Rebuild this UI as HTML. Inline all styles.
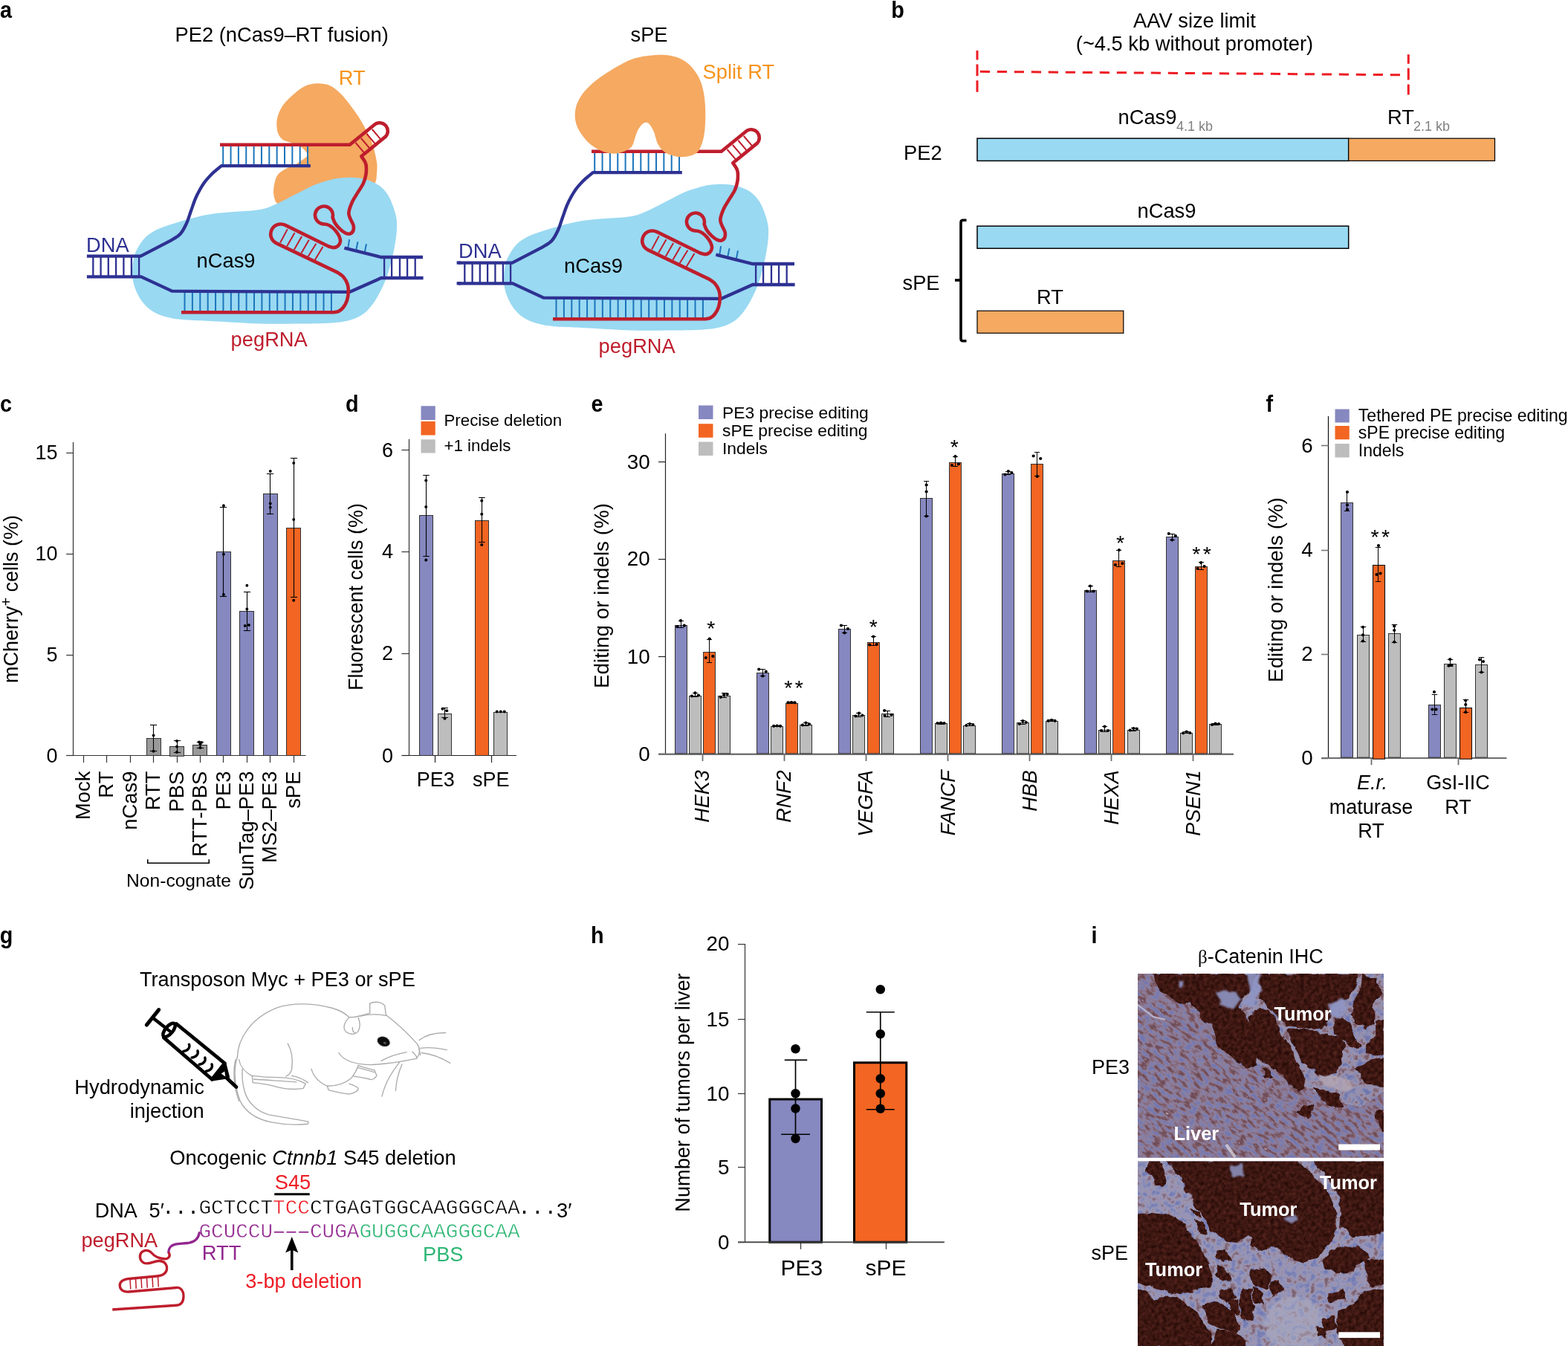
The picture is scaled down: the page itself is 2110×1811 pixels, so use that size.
<!DOCTYPE html>
<html lang="en"><head><meta charset="utf-8"><title>Figure: split prime editor</title>
<style>
html,body{margin:0;padding:0;background:#fff}
body{width:2110px;height:1811px;overflow:hidden}
svg{display:block}
svg text{font-family:"Liberation Sans",sans-serif}
</style></head><body>
<svg width="2110" height="1811" viewBox="0 0 2110 1811">
<rect width="2110" height="1811" fill="#fff"/>
<defs><g id="strands">
<line x1="300.2" y1="196" x2="300.2" y2="222" stroke="#1c75bc" stroke-width="2" />
<line x1="310.55" y1="196" x2="310.55" y2="222" stroke="#1c75bc" stroke-width="2" />
<line x1="320.9" y1="196" x2="320.9" y2="222" stroke="#1c75bc" stroke-width="2" />
<line x1="331.25" y1="196" x2="331.25" y2="222" stroke="#1c75bc" stroke-width="2" />
<line x1="341.6" y1="196" x2="341.6" y2="222" stroke="#1c75bc" stroke-width="2" />
<line x1="351.95" y1="196" x2="351.95" y2="222" stroke="#1c75bc" stroke-width="2" />
<line x1="362.3" y1="196" x2="362.3" y2="222" stroke="#1c75bc" stroke-width="2" />
<line x1="372.65" y1="196" x2="372.65" y2="222" stroke="#1c75bc" stroke-width="2" />
<line x1="383" y1="196" x2="383" y2="222" stroke="#1c75bc" stroke-width="2" />
<line x1="393.35" y1="196" x2="393.35" y2="222" stroke="#1c75bc" stroke-width="2" />
<line x1="403.7" y1="196" x2="403.7" y2="222" stroke="#1c75bc" stroke-width="2" />
<line x1="414.05" y1="196" x2="414.05" y2="222" stroke="#1c75bc" stroke-width="2" />
<line x1="248.5" y1="393" x2="248.5" y2="419" stroke="#1c75bc" stroke-width="2" />
<line x1="258.89" y1="393" x2="258.89" y2="419" stroke="#1c75bc" stroke-width="2" />
<line x1="269.28" y1="393" x2="269.28" y2="419" stroke="#1c75bc" stroke-width="2" />
<line x1="279.67" y1="393" x2="279.67" y2="419" stroke="#1c75bc" stroke-width="2" />
<line x1="290.06" y1="393" x2="290.06" y2="419" stroke="#1c75bc" stroke-width="2" />
<line x1="300.45" y1="393" x2="300.45" y2="419" stroke="#1c75bc" stroke-width="2" />
<line x1="310.84" y1="393" x2="310.84" y2="419" stroke="#1c75bc" stroke-width="2" />
<line x1="321.23" y1="393" x2="321.23" y2="419" stroke="#1c75bc" stroke-width="2" />
<line x1="331.62" y1="393" x2="331.62" y2="419" stroke="#1c75bc" stroke-width="2" />
<line x1="342.01" y1="393" x2="342.01" y2="419" stroke="#1c75bc" stroke-width="2" />
<line x1="352.4" y1="393" x2="352.4" y2="419" stroke="#1c75bc" stroke-width="2" />
<line x1="362.79" y1="393" x2="362.79" y2="419" stroke="#1c75bc" stroke-width="2" />
<line x1="373.18" y1="393" x2="373.18" y2="419" stroke="#1c75bc" stroke-width="2" />
<line x1="383.57" y1="393" x2="383.57" y2="419" stroke="#1c75bc" stroke-width="2" />
<line x1="393.96" y1="393" x2="393.96" y2="419" stroke="#1c75bc" stroke-width="2" />
<line x1="404.35" y1="393" x2="404.35" y2="419" stroke="#1c75bc" stroke-width="2" />
<line x1="414.74" y1="393" x2="414.74" y2="419" stroke="#1c75bc" stroke-width="2" />
<line x1="425.13" y1="393" x2="425.13" y2="419" stroke="#1c75bc" stroke-width="2" />
<line x1="435.52" y1="393" x2="435.52" y2="419" stroke="#1c75bc" stroke-width="2" />
<line x1="445.91" y1="393" x2="445.91" y2="419" stroke="#1c75bc" stroke-width="2" />
<line x1="468.2" y1="334.6" x2="470.1" y2="322.2" stroke="#1c75bc" stroke-width="2" />
<line x1="479.1" y1="337.3" x2="481.5" y2="325.2" stroke="#1c75bc" stroke-width="2" />
<line x1="490.6" y1="340.2" x2="493" y2="328.3" stroke="#1c75bc" stroke-width="2" />
<line x1="125.3" y1="344.5" x2="125.3" y2="372.3" stroke="#2e3192" stroke-width="2.3" />
<line x1="135.6" y1="344.5" x2="135.6" y2="372.3" stroke="#2e3192" stroke-width="2.3" />
<line x1="145.8" y1="344.5" x2="145.8" y2="372.3" stroke="#2e3192" stroke-width="2.3" />
<line x1="156.1" y1="344.5" x2="156.1" y2="372.3" stroke="#2e3192" stroke-width="2.3" />
<line x1="166.4" y1="344.5" x2="166.4" y2="372.3" stroke="#2e3192" stroke-width="2.3" />
<line x1="176.9" y1="344.5" x2="176.9" y2="372.3" stroke="#2e3192" stroke-width="2.3" />
<line x1="187.1" y1="344.5" x2="187.1" y2="372.3" stroke="#2e3192" stroke-width="2.3" />
<line x1="517.1" y1="346" x2="517.1" y2="374" stroke="#2e3192" stroke-width="2.3" />
<line x1="527.1" y1="346" x2="527.1" y2="374" stroke="#2e3192" stroke-width="2.3" />
<line x1="538" y1="346" x2="538" y2="374" stroke="#2e3192" stroke-width="2.3" />
<line x1="548.1" y1="346" x2="548.1" y2="374" stroke="#2e3192" stroke-width="2.3" />
<line x1="558.7" y1="346" x2="558.7" y2="374" stroke="#2e3192" stroke-width="2.3" />
<path d="M116.9 344.55L189.3 344.55L230.3 323.4C232.32 322 238.98 318.73 242.4 315C245.82 311.27 248.38 306.17 250.8 301C253.22 295.83 254.88 289.6 256.9 284C258.92 278.4 260.9 272.18 262.9 267.4C264.9 262.62 266.88 258.93 268.9 255.3C270.92 251.67 272.98 248.42 275 245.6C277.02 242.78 278.8 240.8 281 238.4C283.2 236 285.38 233.73 288.2 231.2C291.02 228.67 296.28 224.53 297.9 223.2L417.8 223.2" fill="none" stroke="#2e3192" stroke-width="4.3" stroke-linejoin="round"/>
<path d="M116.9 372.3L189.9 372.3L231.5 391.7L470.7 392.8L512.9 374L569.6 374" fill="none" stroke="#2e3192" stroke-width="4.3" stroke-linejoin="miter"/>
<path d="M463.4 333.7L512.9 346L569 346" fill="none" stroke="#2e3192" stroke-width="4.3" />
<line x1="478.5" y1="192" x2="491.8" y2="207.6" stroke="#be1e2d" stroke-width="2" />
<line x1="485.9" y1="186" x2="499.2" y2="201.7" stroke="#be1e2d" stroke-width="2" />
<line x1="493.4" y1="180" x2="506.6" y2="195.7" stroke="#be1e2d" stroke-width="2" />
<line x1="500.8" y1="174" x2="514.1" y2="189.6" stroke="#be1e2d" stroke-width="2" />
<line x1="386.8" y1="308.4" x2="377.1" y2="326.5" stroke="#be1e2d" stroke-width="2" />
<line x1="396.5" y1="313.2" x2="386.2" y2="331.3" stroke="#be1e2d" stroke-width="2" />
<line x1="406.1" y1="318" x2="395.8" y2="336.1" stroke="#be1e2d" stroke-width="2" />
<line x1="415.8" y1="322.8" x2="405.5" y2="340.5" stroke="#be1e2d" stroke-width="2" />
<line x1="425.4" y1="327.7" x2="414.6" y2="345.2" stroke="#be1e2d" stroke-width="2" />
<line x1="434.5" y1="331.9" x2="423.6" y2="350" stroke="#be1e2d" stroke-width="2" />
<path d="M296 194.7L470.7 194.7L505.2 166.8A11 11 0 0 1 519 183.6L486.3 210.3C487.02 211.37 489.53 214.63 490.6 216.7C491.67 218.77 492.4 219.68 492.7 222.7C493 225.72 493.05 230.77 492.4 234.8C491.75 238.83 490.62 242.88 488.8 246.9C486.98 250.92 483.92 254.88 481.5 258.9C479.08 262.92 476.32 266.57 474.3 271C472.28 275.43 469.9 281.67 469.4 285.5C468.9 289.33 470.28 291.08 471.3 294C472.32 296.92 474.85 300.25 475.5 303C476.15 305.75 476 308.57 475.2 310.5C474.4 312.43 472.4 314.08 470.7 314.6C469 315.12 467.12 314.6 465 313.6C462.88 312.6 460.33 310.78 458 308.6C455.67 306.42 452.73 303.22 451 300.5C449.27 297.78 448.17 293.67 447.6 292.3A12 12 0 1 0 434.5 301.4C435.3 301.48 437.5 301.35 439.3 301.9C441.1 302.45 443.28 303.32 445.3 304.7C447.32 306.08 449.58 308.08 451.4 310.2C453.22 312.32 455.1 315 456.2 317.4C457.3 319.8 458.2 322.38 458 324.6C457.8 326.82 456.52 329.28 455 330.7C453.48 332.12 451.12 333 448.9 333.1C446.68 333.2 442.9 331.6 441.7 331.3L383.8 302.9A13.5 13.5 0 0 0 371.7 327.1L453.8 366.3C455.17 367.33 459.72 369.88 462 372.5C464.28 375.12 466.37 378.72 467.5 382C468.63 385.28 468.88 388.53 468.8 392.2C468.72 395.87 468.13 400.45 467 404C465.87 407.55 463.83 411.07 462 413.5C460.17 415.93 458.17 417.47 456 418.6C453.83 419.73 450.17 420.02 449 420.3L244 420.3" fill="none" stroke="#be1e2d" stroke-width="4.6" stroke-linejoin="round"/>
</g></defs>
<path d="M415.8 208.8C413.98 206.9 409.2 200.28 404.9 197.4C400.6 194.52 394.12 193.12 390 191.5C385.88 189.88 382.85 189.73 380.2 187.7C377.55 185.67 375.42 182.72 374.1 179.3C372.78 175.88 372.3 171.22 372.3 167.2C372.3 163.18 372.58 159.62 374.1 155.2C375.62 150.78 377.78 145.53 381.4 140.7C385.02 135.87 390.98 130.33 395.8 126.2C400.62 122.07 405.07 118.22 410.3 115.9C415.53 113.58 421.57 112.4 427.2 112.3C432.83 112.2 438.87 112.98 444.1 115.3C449.33 117.62 454.17 121.97 458.6 126.2C463.03 130.43 466.68 135.47 470.7 140.7C474.72 145.93 479.08 151.97 482.7 157.6C486.32 163.23 489.38 168.67 492.4 174.5C495.42 180.33 498.6 186.57 500.8 192.6C503 198.63 504.48 205.68 505.6 210.7C506.72 215.72 507.28 218.68 507.5 222.7C507.72 226.72 507.32 230.98 506.9 234.8C506.48 238.62 506.98 241.07 505 245.6C503.02 250.13 500.83 257.1 495 262C489.17 266.9 480.83 271.17 470 275C459.17 278.83 443.33 283.33 430 285C416.67 286.67 399.52 286.93 390 285C380.48 283.07 376.25 276.13 372.9 273.4C369.55 270.67 370.7 271.02 369.9 268.6C369.1 266.18 368.2 262.52 368.1 258.9C368 255.28 368.3 250.92 369.3 246.9C370.3 242.88 371.28 238.23 374.1 234.8C376.92 231.37 382.17 228.62 386.2 226.3C390.23 223.98 393.37 223.82 398.3 220.9C403.23 217.98 412.88 210.82 415.8 208.8Z" fill="#f5a961" />
<path d="M350 282C359.5 280.1 366 276.85 374 273.4C382 269.95 390 265.32 398 261.3C406 257.28 413.92 252.62 422 249.3C430.08 245.98 439.4 243.12 446.5 241.4C453.6 239.68 458.57 239.3 464.6 239C470.63 238.7 476.67 238.7 482.7 239.6C488.73 240.5 495.77 242.38 500.8 244.4C505.83 246.42 509.48 248.88 512.9 251.7C516.32 254.52 518.88 257.68 521.3 261.3C523.72 264.92 525.58 268.97 527.4 273.4C529.22 277.83 531.1 283.63 532.2 287.9C533.3 292.17 533.8 294.32 534 299C534.2 303.68 534.1 309.5 533.4 316C532.7 322.5 531.2 331 529.8 338C528.4 345 526.8 351.58 525 358C523.2 364.42 521.42 370.4 519 376.5C516.58 382.6 513.53 388.97 510.5 394.6C507.47 400.23 504.42 405.67 500.8 410.3C497.18 414.93 493.82 418.98 488.8 422.4C483.78 425.82 477.75 428.8 470.7 430.8C463.65 432.8 458.62 433.6 446.5 434.4C434.38 435.2 414.08 435.4 398 435.6C381.92 435.8 367.5 436.1 350 435.6C332.5 435.1 308.5 433.4 293 432.6C277.5 431.8 267.05 431.5 257 430.8C246.95 430.1 239.77 429.6 232.7 428.4C225.63 427.2 220.05 425.83 214.6 423.6C209.15 421.37 204.22 418.43 200 415C195.78 411.57 192.3 407.4 189.3 403C186.3 398.6 183.82 393.43 182 388.6C180.18 383.77 179 379.03 178.4 374C177.8 368.97 178 363.4 178.4 358.4C178.8 353.4 179.37 348.62 180.8 344C182.23 339.38 184.38 334.93 187 330.7C189.62 326.47 192.9 322.02 196.5 318.6C200.1 315.18 203.57 312.8 208.6 310.2C213.63 307.6 219.67 305.42 226.7 303C233.73 300.58 241.75 298.13 250.8 295.7C259.85 293.27 269.97 290.22 281 288.4C292.03 286.58 305.5 285.87 317 284.8C328.5 283.73 340.5 283.9 350 282Z" fill="#99d9f2" />
<use href="#strands"/>
<text x="235.5" y="56" font-size="27.3">PE2 (nCas9–RT fusion)</text>
<text x="455.8" y="114.3" font-size="27.3" fill="#f7941d">RT</text>
<text x="116" y="338.8" font-size="27.3" fill="#2e3192">DNA</text>
<text x="264.6" y="359.6" font-size="27.3">nCas9</text>
<text x="310.6" y="466.4" font-size="27.3" fill="#be1e2d">pegRNA</text>
<g transform="translate(500 9)">
<path d="M350 282C359.5 280.1 366 276.85 374 273.4C382 269.95 390 265.32 398 261.3C406 257.28 413.92 252.62 422 249.3C430.08 245.98 439.4 243.12 446.5 241.4C453.6 239.68 458.57 239.3 464.6 239C470.63 238.7 476.67 238.7 482.7 239.6C488.73 240.5 495.77 242.38 500.8 244.4C505.83 246.42 509.48 248.88 512.9 251.7C516.32 254.52 518.88 257.68 521.3 261.3C523.72 264.92 525.58 268.97 527.4 273.4C529.22 277.83 531.1 283.63 532.2 287.9C533.3 292.17 533.8 294.32 534 299C534.2 303.68 534.1 309.5 533.4 316C532.7 322.5 531.2 331 529.8 338C528.4 345 526.8 351.58 525 358C523.2 364.42 521.42 370.4 519 376.5C516.58 382.6 513.53 388.97 510.5 394.6C507.47 400.23 504.42 405.67 500.8 410.3C497.18 414.93 493.82 418.98 488.8 422.4C483.78 425.82 477.75 428.8 470.7 430.8C463.65 432.8 458.62 433.6 446.5 434.4C434.38 435.2 414.08 435.4 398 435.6C381.92 435.8 367.5 436.1 350 435.6C332.5 435.1 308.5 433.4 293 432.6C277.5 431.8 267.05 431.5 257 430.8C246.95 430.1 239.77 429.6 232.7 428.4C225.63 427.2 220.05 425.83 214.6 423.6C209.15 421.37 204.22 418.43 200 415C195.78 411.57 192.3 407.4 189.3 403C186.3 398.6 183.82 393.43 182 388.6C180.18 383.77 179 379.03 178.4 374C177.8 368.97 178 363.4 178.4 358.4C178.8 353.4 179.37 348.62 180.8 344C182.23 339.38 184.38 334.93 187 330.7C189.62 326.47 192.9 322.02 196.5 318.6C200.1 315.18 203.57 312.8 208.6 310.2C213.63 307.6 219.67 305.42 226.7 303C233.73 300.58 241.75 298.13 250.8 295.7C259.85 293.27 269.97 290.22 281 288.4C292.03 286.58 305.5 285.87 317 284.8C328.5 283.73 340.5 283.9 350 282Z" fill="#99d9f2" />
</g>
<g transform="translate(500 9)"><use href="#strands"/></g>
<line x1="614.6" y1="353.55" x2="620" y2="353.55" stroke="#2e3192" stroke-width="4.3" />
<line x1="614.6" y1="381.3" x2="620" y2="381.3" stroke="#2e3192" stroke-width="4.3" />
<path d="M886.8 73.7C877.43 74.07 863.4 75.52 853.1 78.7C842.8 81.88 834.37 87.17 825 92.8C815.63 98.43 804.4 105.93 796.9 112.5C789.4 119.07 783.85 125.63 780 132.2C776.15 138.77 774.27 145.35 773.8 151.9C773.33 158.45 774.3 164.95 777.2 171.5C780.1 178.05 786.05 186.03 791.2 191.2C796.35 196.37 802.47 199.92 808.1 202.5C813.73 205.08 819.85 206.47 825 206.7C830.15 206.93 834.78 205.53 839 203.9C843.22 202.27 847.72 199.95 850.3 196.9C852.88 193.85 853.1 189.35 854.5 185.6C855.9 181.85 856.83 177.68 858.7 174.4C860.57 171.12 863.35 167.32 865.7 165.9C868.05 164.48 870.45 164.02 872.8 165.9C875.15 167.78 877.7 172.52 879.8 177.2C881.9 181.88 882.82 189.32 885.4 194C887.98 198.68 890.85 202.48 895.3 205.3C899.75 208.12 906.48 210.2 912.1 210.9C917.72 211.6 924.3 210.9 929 209.5C933.7 208.1 937.25 206.95 940.3 202.5C943.35 198.05 945.8 190.77 947.3 182.8C948.8 174.83 949.3 164.08 949.3 154.7C949.3 145.32 948.8 134.95 947.3 126.5C945.8 118.05 943.82 110.78 940.3 104C936.78 97.22 931.37 90.38 926.2 85.8C921.03 81.22 915.87 78.52 909.3 76.5C902.73 74.48 896.17 73.33 886.8 73.7Z" fill="#f5a961" />
<text x="848.5" y="56.2" font-size="27.3">sPE</text>
<text x="945.5" y="105.5" font-size="27.3" fill="#f7941d">Split RT</text>
<text x="617" y="346.5" font-size="27.3" fill="#2e3192">DNA</text>
<text x="759" y="367" font-size="27.3">nCas9</text>
<text x="805.6" y="475.3" font-size="27.3" fill="#be1e2d">pegRNA</text>
<text transform="translate(0.1 24.2) scale(0.9 1)" font-size="32" font-weight="bold">a</text>
<text transform="translate(1199.23 24) scale(0.9 1)" font-size="32" font-weight="bold">b</text>
<text x="1607.5" y="36.75" font-size="27.3" text-anchor="middle">AAV size limit</text>
<text x="1607.5" y="68" font-size="27.3" text-anchor="middle">(~4.5 kb without promoter)</text>
<line x1="1315" y1="68" x2="1315" y2="123.75" stroke="#ed1c24" stroke-width="3" stroke-dasharray="15.75 6" stroke-dashoffset="3.25"/>
<line x1="1895.25" y1="73.2" x2="1895.25" y2="127.6" stroke="#ed1c24" stroke-width="3" stroke-dasharray="15.75 6" stroke-dashoffset="3.25"/>
<line x1="1318.8" y1="96.3" x2="1892" y2="100.8" stroke="#ed1c24" stroke-width="3" stroke-dasharray="13.2 9.8"/>
<rect x="1315" y="186.2" width="499.7" height="30.2" fill="#99d9f2" stroke="#000" stroke-width="1.5" />
<rect x="1814.7" y="186.2" width="196.8" height="30.2" fill="#f5a961" stroke="#000" stroke-width="1.2" />
<text x="1504.5" y="166.75" font-size="27.3">nCas9</text>
<text x="1583" y="175.5" font-size="18" fill="#808080">4.1 kb</text>
<text x="1867" y="166.75" font-size="27.3">RT</text>
<text x="1902" y="175.5" font-size="18" fill="#808080">2.1 kb</text>
<text x="1216" y="215" font-size="27.3">PE2</text>
<rect x="1315" y="304.2" width="499.7" height="30" fill="#99d9f2" stroke="#000" stroke-width="1.5" />
<rect x="1315" y="418.2" width="196.8" height="30" fill="#f5a961" stroke="#000" stroke-width="1.2" />
<text x="1530.5" y="293.25" font-size="27.3">nCas9</text>
<text x="1395" y="408.75" font-size="27.3">RT</text>
<text x="1214.5" y="389.5" font-size="27.3">sPE</text>
<path d="M1300.5 296.2L1296 296.2Q1293 296.2 1293 299.5L1293 455.5Q1293 458.8 1296 458.8L1300.5 458.8" fill="none" stroke="#000" stroke-width="3.6" />
<line x1="1285" y1="377" x2="1293" y2="377" stroke="#000" stroke-width="3.6" />
<text transform="translate(0.1 553.6) scale(0.9 1)" font-size="32" font-weight="bold">c</text>
<line x1="98.5" y1="595" x2="98.5" y2="1016.5" stroke="#333" stroke-width="1.2" />
<line x1="89.2" y1="609.5" x2="98.5" y2="609.5" stroke="#333" stroke-width="1.2" />
<text x="77.65" y="618.32" font-size="27" text-anchor="end">15</text>
<line x1="89.2" y1="745.5" x2="98.5" y2="745.5" stroke="#333" stroke-width="1.2" />
<text x="77.65" y="754.32" font-size="27" text-anchor="end">10</text>
<line x1="89.2" y1="881.5" x2="98.5" y2="881.5" stroke="#333" stroke-width="1.2" />
<text x="77.65" y="890.07" font-size="27" text-anchor="end">5</text>
<line x1="89.2" y1="1016.5" x2="98.5" y2="1016.5" stroke="#333" stroke-width="1.2" />
<text x="77.65" y="1025.57" font-size="27" text-anchor="end">0</text>
<line x1="89.5" y1="1016.5" x2="411.5" y2="1016.5" stroke="#333" stroke-width="1.2" />
<line x1="112.5" y1="1016.5" x2="112.5" y2="1026" stroke="#333" stroke-width="1.2" />
<line x1="143.5" y1="1016.5" x2="143.5" y2="1026" stroke="#333" stroke-width="1.2" />
<line x1="175.5" y1="1016.5" x2="175.5" y2="1026" stroke="#333" stroke-width="1.2" />
<line x1="206.5" y1="1016.5" x2="206.5" y2="1026" stroke="#333" stroke-width="1.2" />
<line x1="238.5" y1="1016.5" x2="238.5" y2="1026" stroke="#333" stroke-width="1.2" />
<line x1="269.5" y1="1016.5" x2="269.5" y2="1026" stroke="#333" stroke-width="1.2" />
<line x1="300.5" y1="1016.5" x2="300.5" y2="1026" stroke="#333" stroke-width="1.2" />
<line x1="332.5" y1="1016.5" x2="332.5" y2="1026" stroke="#333" stroke-width="1.2" />
<line x1="363.5" y1="1016.5" x2="363.5" y2="1026" stroke="#333" stroke-width="1.2" />
<line x1="395.5" y1="1016.5" x2="395.5" y2="1026" stroke="#333" stroke-width="1.2" />
<rect x="197.5" y="993.5" width="19" height="23" fill="#999999" stroke="#333" stroke-width="1" />
<rect x="228.5" y="1004.5" width="19" height="12.8" fill="#999999" stroke="#333" stroke-width="1" />
<rect x="259.5" y="1002.5" width="19" height="14" fill="#999999" stroke="#333" stroke-width="1" />
<rect x="291.5" y="742.5" width="19" height="274" fill="#8688c0" stroke="#333" stroke-width="1" />
<rect x="322.5" y="822.5" width="19" height="194" fill="#8688c0" stroke="#333" stroke-width="1" />
<rect x="354.5" y="664.5" width="19" height="352" fill="#8688c0" stroke="#333" stroke-width="1" />
<rect x="385.5" y="710.5" width="19" height="306" fill="#f26522" stroke="#333" stroke-width="1" />
<line x1="206.5" y1="975.5" x2="206.5" y2="1010" stroke="#000" stroke-width="1.1" />
<line x1="201.9" y1="975.5" x2="211.1" y2="975.5" stroke="#000" stroke-width="1.1" />
<line x1="201.9" y1="1010.5" x2="211.1" y2="1010.5" stroke="#000" stroke-width="1.1" />
<line x1="238.5" y1="997" x2="238.5" y2="1012.5" stroke="#000" stroke-width="1.1" />
<line x1="233.9" y1="996.5" x2="243.1" y2="996.5" stroke="#000" stroke-width="1.1" />
<line x1="233.9" y1="1012.5" x2="243.1" y2="1012.5" stroke="#000" stroke-width="1.1" />
<line x1="269.5" y1="998.25" x2="269.5" y2="1006.25" stroke="#000" stroke-width="1.1" />
<line x1="264.9" y1="998.5" x2="274.1" y2="998.5" stroke="#000" stroke-width="1.1" />
<line x1="264.9" y1="1006.5" x2="274.1" y2="1006.5" stroke="#000" stroke-width="1.1" />
<line x1="300.5" y1="682" x2="300.5" y2="802" stroke="#000" stroke-width="1.1" />
<line x1="295.9" y1="682.5" x2="305.1" y2="682.5" stroke="#000" stroke-width="1.1" />
<line x1="295.9" y1="802.5" x2="305.1" y2="802.5" stroke="#000" stroke-width="1.1" />
<line x1="332.5" y1="797" x2="332.5" y2="848" stroke="#000" stroke-width="1.1" />
<line x1="327.9" y1="796.5" x2="337.1" y2="796.5" stroke="#000" stroke-width="1.1" />
<line x1="327.9" y1="848.5" x2="337.1" y2="848.5" stroke="#000" stroke-width="1.1" />
<line x1="363.5" y1="637.75" x2="363.5" y2="691.5" stroke="#000" stroke-width="1.1" />
<line x1="358.9" y1="637.5" x2="368.1" y2="637.5" stroke="#000" stroke-width="1.1" />
<line x1="358.9" y1="691.5" x2="368.1" y2="691.5" stroke="#000" stroke-width="1.1" />
<line x1="395.5" y1="617" x2="395.5" y2="803.25" stroke="#000" stroke-width="1.1" />
<line x1="390.9" y1="616.5" x2="400.1" y2="616.5" stroke="#000" stroke-width="1.1" />
<line x1="390.9" y1="803.5" x2="400.1" y2="803.5" stroke="#000" stroke-width="1.1" />
<circle cx="206.57" cy="989.5" r="1.9" fill="#000" />
<circle cx="206.57" cy="1010.75" r="1.9" fill="#000" />
<circle cx="238.01" cy="997" r="1.9" fill="#000" />
<circle cx="238.01" cy="1004.5" r="1.9" fill="#000" />
<circle cx="238.01" cy="1012" r="1.9" fill="#000" />
<circle cx="267.95" cy="998.5" r="1.9" fill="#000" />
<circle cx="270.95" cy="999" r="1.9" fill="#000" />
<circle cx="269.45" cy="1001.5" r="1.9" fill="#000" />
<circle cx="269.45" cy="1006" r="1.9" fill="#000" />
<circle cx="300.89" cy="680.25" r="1.9" fill="#000" />
<circle cx="300.89" cy="745.75" r="1.9" fill="#000" />
<circle cx="300.89" cy="800" r="1.9" fill="#000" />
<circle cx="332.33" cy="787.75" r="1.9" fill="#000" />
<circle cx="332.33" cy="819.5" r="1.9" fill="#000" />
<circle cx="329.73" cy="842" r="1.9" fill="#000" />
<circle cx="334.93" cy="841" r="1.9" fill="#000" />
<circle cx="363.77" cy="634" r="1.9" fill="#000" />
<circle cx="363.77" cy="677.5" r="1.9" fill="#000" />
<circle cx="363.77" cy="682.75" r="1.9" fill="#000" />
<circle cx="395.21" cy="623" r="1.9" fill="#000" />
<circle cx="395.21" cy="699" r="1.9" fill="#000" />
<circle cx="395.21" cy="807.75" r="1.9" fill="#000" />
<text x="120.95" y="1037.6" font-size="27.4" text-anchor="end" transform="rotate(-90 120.95 1037.6)">Mock</text>
<text x="152.39" y="1037.6" font-size="27.4" text-anchor="end" transform="rotate(-90 152.39 1037.6)">RT</text>
<text x="183.83" y="1037.6" font-size="27.4" text-anchor="end" transform="rotate(-90 183.83 1037.6)">nCas9</text>
<text x="215.27" y="1037.6" font-size="27.4" text-anchor="end" transform="rotate(-90 215.27 1037.6)">RTT</text>
<text x="246.71" y="1037.6" font-size="27.4" text-anchor="end" transform="rotate(-90 246.71 1037.6)">PBS</text>
<text x="278.15" y="1037.6" font-size="27.4" text-anchor="end" transform="rotate(-90 278.15 1037.6)">RTT-PBS</text>
<text x="309.59" y="1037.6" font-size="27.4" text-anchor="end" transform="rotate(-90 309.59 1037.6)">PE3</text>
<text x="341.03" y="1037.6" font-size="27.4" text-anchor="end" transform="rotate(-90 341.03 1037.6)">SunTag–PE3</text>
<text x="372.47" y="1037.6" font-size="27.4" text-anchor="end" transform="rotate(-90 372.47 1037.6)">MS2–PE3</text>
<text x="403.91" y="1037.6" font-size="27.4" text-anchor="end" transform="rotate(-90 403.91 1037.6)">sPE</text>
<text x="24.2" y="806" font-size="27" text-anchor="middle" transform="rotate(-90 24.2 806)">mCherry<tspan font-size="20" dy="-9">+</tspan><tspan dy="9"> cells (%)</tspan></text>
<path d="M198.75 1156.2L198.75 1161.2L281.25 1161.2L281.25 1156.2" fill="none" stroke="#000" stroke-width="1.6" />
<text x="240.5" y="1192.7" font-size="24.6" text-anchor="middle">Non-cognate</text>
<text transform="translate(465.1 553.75) scale(0.9 1)" font-size="32" font-weight="bold">d</text>
<line x1="550.5" y1="590.75" x2="550.5" y2="1016.5" stroke="#333" stroke-width="1.2" />
<line x1="540.5" y1="605.5" x2="550.5" y2="605.5" stroke="#333" stroke-width="1.2" />
<text x="528.95" y="614.57" font-size="27" text-anchor="end">6</text>
<line x1="540.5" y1="742.5" x2="550.5" y2="742.5" stroke="#333" stroke-width="1.2" />
<text x="528.95" y="751.07" font-size="27" text-anchor="end">4</text>
<line x1="540.5" y1="879.5" x2="550.5" y2="879.5" stroke="#333" stroke-width="1.2" />
<text x="528.95" y="888.32" font-size="27" text-anchor="end">2</text>
<line x1="540.5" y1="1016.5" x2="550.5" y2="1016.5" stroke="#333" stroke-width="1.2" />
<text x="528.95" y="1025.57" font-size="27" text-anchor="end">0</text>
<line x1="540.75" y1="1016.5" x2="695" y2="1016.5" stroke="#222" stroke-width="1.2" />
<line x1="585.5" y1="1016.5" x2="585.5" y2="1026" stroke="#222" stroke-width="1.2" />
<line x1="661.5" y1="1016.5" x2="661.5" y2="1026" stroke="#222" stroke-width="1.2" />
<rect x="564.5" y="693.5" width="18" height="323" fill="#8688c0" stroke="#333" stroke-width="1" />
<rect x="589.5" y="960.5" width="18" height="56" fill="#bdbdbd" stroke="#333" stroke-width="1" />
<rect x="639.5" y="700.5" width="18" height="316" fill="#f26522" stroke="#333" stroke-width="1" />
<rect x="664.5" y="958.5" width="18" height="58" fill="#bdbdbd" stroke="#333" stroke-width="1" />
<line x1="573.5" y1="639.5" x2="573.5" y2="748.5" stroke="#000" stroke-width="1.1" />
<line x1="569.25" y1="639.5" x2="577.75" y2="639.5" stroke="#000" stroke-width="1.1" />
<line x1="569.25" y1="748.5" x2="577.75" y2="748.5" stroke="#000" stroke-width="1.1" />
<circle cx="573.25" cy="646.5" r="2" fill="#000" />
<circle cx="573.25" cy="682" r="2" fill="#000" />
<circle cx="573.25" cy="753.5" r="2" fill="#000" />
<line x1="648.5" y1="669.5" x2="648.5" y2="729.5" stroke="#000" stroke-width="1.1" />
<line x1="644.25" y1="669.5" x2="652.75" y2="669.5" stroke="#000" stroke-width="1.1" />
<line x1="644.25" y1="729.5" x2="652.75" y2="729.5" stroke="#000" stroke-width="1.1" />
<circle cx="648.25" cy="673.75" r="2" fill="#000" />
<circle cx="648.25" cy="691.75" r="2" fill="#000" />
<circle cx="648.25" cy="733" r="2" fill="#000" />
<line x1="598.5" y1="952.5" x2="598.5" y2="965.5" stroke="#000" stroke-width="1.1" />
<line x1="594.25" y1="952.5" x2="602.75" y2="952.5" stroke="#000" stroke-width="1.1" />
<line x1="594.25" y1="965.5" x2="602.75" y2="965.5" stroke="#000" stroke-width="1.1" />
<circle cx="595.5" cy="953.75" r="2" fill="#000" />
<circle cx="601.25" cy="956.25" r="2" fill="#000" />
<circle cx="598.5" cy="966.75" r="2" fill="#000" />
<circle cx="668.75" cy="957.5" r="2" fill="#000" />
<circle cx="673.75" cy="957.5" r="2" fill="#000" />
<circle cx="678.75" cy="957.5" r="2" fill="#000" />
<rect x="566.5" y="546.25" width="19.25" height="18.75" fill="#8688c0" />
<rect x="566.5" y="567" width="19.25" height="18.5" fill="#f26522" />
<rect x="566.5" y="591.25" width="19.25" height="18.25" fill="#bdbdbd" />
<text x="597.5" y="572.5" font-size="22.3">Precise deletion</text>
<text x="597.5" y="607" font-size="22.3">+1 indels</text>
<text x="586.3" y="1058.25" font-size="27" text-anchor="middle">PE3</text>
<text x="660.7" y="1058.25" font-size="27" text-anchor="middle">sPE</text>
<text x="488.25" y="803" font-size="27" text-anchor="middle" transform="rotate(-90 488.25 803)">Fluorescent cells (%)</text>
<text transform="translate(795.39 553.6) scale(0.9 1)" font-size="32" font-weight="bold">e</text>
<line x1="895.5" y1="583.25" x2="895.5" y2="1014.75" stroke="#222" stroke-width="1.2" />
<line x1="886" y1="621.5" x2="895.5" y2="621.5" stroke="#222" stroke-width="1.2" />
<text x="874.6" y="630.6" font-size="27.8" text-anchor="end">30</text>
<line x1="886" y1="752.5" x2="895.5" y2="752.5" stroke="#222" stroke-width="1.2" />
<text x="874.6" y="761.45" font-size="27.8" text-anchor="end">20</text>
<line x1="886" y1="883.5" x2="895.5" y2="883.5" stroke="#222" stroke-width="1.2" />
<text x="874.6" y="892.6" font-size="27.8" text-anchor="end">10</text>
<line x1="886" y1="1014.5" x2="895.5" y2="1014.5" stroke="#222" stroke-width="1.2" />
<text x="874.6" y="1024.1" font-size="27.8" text-anchor="end">0</text>
<line x1="886.25" y1="1014.75" x2="1660" y2="1014.75" stroke="#6e6e6e" stroke-width="1.8" />
<line x1="945.5" y1="1014.75" x2="945.5" y2="1024.05" stroke="#6e6e6e" stroke-width="1.8" />
<line x1="1055.5" y1="1014.75" x2="1055.5" y2="1024.05" stroke="#6e6e6e" stroke-width="1.8" />
<line x1="1165.5" y1="1014.75" x2="1165.5" y2="1024.05" stroke="#6e6e6e" stroke-width="1.8" />
<line x1="1275.5" y1="1014.75" x2="1275.5" y2="1024.05" stroke="#6e6e6e" stroke-width="1.8" />
<line x1="1385.5" y1="1014.75" x2="1385.5" y2="1024.05" stroke="#6e6e6e" stroke-width="1.8" />
<line x1="1495.5" y1="1014.75" x2="1495.5" y2="1024.05" stroke="#6e6e6e" stroke-width="1.8" />
<line x1="1605.5" y1="1014.75" x2="1605.5" y2="1024.05" stroke="#6e6e6e" stroke-width="1.8" />
<line x1="886.25" y1="1014.75" x2="1660" y2="1014.75" stroke="#6e6e6e" stroke-width="1.8" />
<rect x="908.5" y="841.5" width="16" height="172.35" fill="#8688c0" stroke="#333" stroke-width="1" />
<rect x="927.5" y="936.5" width="16" height="77.35" fill="#bdbdbd" stroke="#333" stroke-width="1" />
<rect x="946.5" y="877.5" width="16" height="136.35" fill="#f26522" stroke="#333" stroke-width="1" />
<rect x="966.5" y="936.5" width="16" height="77.35" fill="#bdbdbd" stroke="#333" stroke-width="1" />
<rect x="1018.5" y="905.5" width="16" height="108.35" fill="#8688c0" stroke="#333" stroke-width="1" />
<rect x="1037.5" y="977.5" width="16" height="36.35" fill="#bdbdbd" stroke="#333" stroke-width="1" />
<rect x="1057.5" y="946.5" width="16" height="67.35" fill="#f26522" stroke="#333" stroke-width="1" />
<rect x="1076.5" y="975.5" width="16" height="38.35" fill="#bdbdbd" stroke="#333" stroke-width="1" />
<rect x="1128.5" y="846.5" width="16" height="167.35" fill="#8688c0" stroke="#333" stroke-width="1" />
<rect x="1147.5" y="962.5" width="16" height="51.35" fill="#bdbdbd" stroke="#333" stroke-width="1" />
<rect x="1167.5" y="864.5" width="16" height="149.35" fill="#f26522" stroke="#333" stroke-width="1" />
<rect x="1186.5" y="960.5" width="16" height="53.35" fill="#bdbdbd" stroke="#333" stroke-width="1" />
<rect x="1238.5" y="670.5" width="16" height="343.35" fill="#8688c0" stroke="#333" stroke-width="1" />
<rect x="1258.5" y="973.5" width="16" height="40.35" fill="#bdbdbd" stroke="#333" stroke-width="1" />
<rect x="1277.5" y="622.5" width="16" height="391.35" fill="#f26522" stroke="#333" stroke-width="1" />
<rect x="1296.5" y="976.5" width="16" height="37.35" fill="#bdbdbd" stroke="#333" stroke-width="1" />
<rect x="1348.5" y="637.5" width="16" height="376.35" fill="#8688c0" stroke="#333" stroke-width="1" />
<rect x="1368.5" y="972.5" width="16" height="41.35" fill="#bdbdbd" stroke="#333" stroke-width="1" />
<rect x="1387.5" y="624.5" width="16" height="389.35" fill="#f26522" stroke="#333" stroke-width="1" />
<rect x="1407.5" y="970.5" width="16" height="43.35" fill="#bdbdbd" stroke="#333" stroke-width="1" />
<rect x="1459.5" y="794.5" width="16" height="219.35" fill="#8688c0" stroke="#333" stroke-width="1" />
<rect x="1478.5" y="982.5" width="16" height="31.35" fill="#bdbdbd" stroke="#333" stroke-width="1" />
<rect x="1497.5" y="754.5" width="16" height="259.35" fill="#f26522" stroke="#333" stroke-width="1" />
<rect x="1517.5" y="982.5" width="16" height="31.35" fill="#bdbdbd" stroke="#333" stroke-width="1" />
<rect x="1569.5" y="722.5" width="16" height="291.35" fill="#8688c0" stroke="#333" stroke-width="1" />
<rect x="1588.5" y="986.5" width="16" height="27.35" fill="#bdbdbd" stroke="#333" stroke-width="1" />
<rect x="1608.5" y="762.5" width="16" height="251.35" fill="#f26522" stroke="#333" stroke-width="1" />
<rect x="1627.5" y="974.5" width="16" height="39.35" fill="#bdbdbd" stroke="#333" stroke-width="1" />
<line x1="916.5" y1="835.5" x2="916.5" y2="844.5" stroke="#000" stroke-width="1" />
<line x1="913" y1="835.5" x2="920" y2="835.5" stroke="#000" stroke-width="1" />
<line x1="913" y1="844.5" x2="920" y2="844.5" stroke="#000" stroke-width="1" />
<circle cx="911.4" cy="843.2" r="2.1" fill="#000" />
<circle cx="916" cy="835" r="2.1" fill="#000" />
<circle cx="920.8" cy="841.7" r="2.1" fill="#000" />
<line x1="935.5" y1="932.5" x2="935.5" y2="937.5" stroke="#000" stroke-width="1" />
<line x1="932" y1="932.5" x2="939" y2="932.5" stroke="#000" stroke-width="1" />
<line x1="932" y1="937.5" x2="939" y2="937.5" stroke="#000" stroke-width="1" />
<circle cx="930.9" cy="936.5" r="2.1" fill="#000" />
<circle cx="935.4" cy="932.3" r="2.1" fill="#000" />
<circle cx="939.9" cy="935.5" r="2.1" fill="#000" />
<line x1="954.5" y1="860.5" x2="954.5" y2="891.5" stroke="#000" stroke-width="1" />
<line x1="951" y1="860.5" x2="958" y2="860.5" stroke="#000" stroke-width="1" />
<line x1="951" y1="891.5" x2="958" y2="891.5" stroke="#000" stroke-width="1" />
<circle cx="954.8" cy="859.5" r="2.1" fill="#000" />
<circle cx="949.8" cy="885" r="2.1" fill="#000" />
<circle cx="959.3" cy="883" r="2.1" fill="#000" />
<line x1="974.5" y1="933" x2="974.5" y2="938.5" stroke="#000" stroke-width="1" />
<line x1="971" y1="932.5" x2="978" y2="932.5" stroke="#000" stroke-width="1" />
<line x1="971" y1="938.5" x2="978" y2="938.5" stroke="#000" stroke-width="1" />
<circle cx="969.7" cy="938" r="2.1" fill="#000" />
<circle cx="974.2" cy="934.5" r="2.1" fill="#000" />
<circle cx="978.7" cy="934" r="2.1" fill="#000" />
<line x1="1026.5" y1="900.5" x2="1026.5" y2="909.5" stroke="#000" stroke-width="1" />
<line x1="1023" y1="900.5" x2="1030" y2="900.5" stroke="#000" stroke-width="1" />
<line x1="1023" y1="909.5" x2="1030" y2="909.5" stroke="#000" stroke-width="1" />
<circle cx="1021.22" cy="900.5" r="2.1" fill="#000" />
<circle cx="1030.72" cy="903.5" r="2.1" fill="#000" />
<circle cx="1026.22" cy="909.5" r="2.1" fill="#000" />
<line x1="1045.5" y1="976" x2="1045.5" y2="977.5" stroke="#000" stroke-width="1" />
<line x1="1042" y1="976.5" x2="1049" y2="976.5" stroke="#000" stroke-width="1" />
<line x1="1042" y1="977.5" x2="1049" y2="977.5" stroke="#000" stroke-width="1" />
<circle cx="1041.12" cy="976.8" r="2.1" fill="#000" />
<circle cx="1045.62" cy="976.5" r="2.1" fill="#000" />
<circle cx="1050.12" cy="976.8" r="2.1" fill="#000" />
<line x1="1065.5" y1="944.5" x2="1065.5" y2="946" stroke="#000" stroke-width="1" />
<line x1="1062" y1="944.5" x2="1069" y2="944.5" stroke="#000" stroke-width="1" />
<line x1="1062" y1="946.5" x2="1069" y2="946.5" stroke="#000" stroke-width="1" />
<circle cx="1060.52" cy="945.3" r="2.1" fill="#000" />
<circle cx="1065.02" cy="945" r="2.1" fill="#000" />
<circle cx="1069.52" cy="945.3" r="2.1" fill="#000" />
<line x1="1084.5" y1="972.5" x2="1084.5" y2="977" stroke="#000" stroke-width="1" />
<line x1="1081" y1="972.5" x2="1088" y2="972.5" stroke="#000" stroke-width="1" />
<line x1="1081" y1="976.5" x2="1088" y2="976.5" stroke="#000" stroke-width="1" />
<circle cx="1079.92" cy="975.5" r="2.1" fill="#000" />
<circle cx="1084.42" cy="972.5" r="2.1" fill="#000" />
<circle cx="1088.92" cy="974.3" r="2.1" fill="#000" />
<line x1="1136.5" y1="841.5" x2="1136.5" y2="851.5" stroke="#000" stroke-width="1" />
<line x1="1133" y1="841.5" x2="1140" y2="841.5" stroke="#000" stroke-width="1" />
<line x1="1133" y1="851.5" x2="1140" y2="851.5" stroke="#000" stroke-width="1" />
<circle cx="1131.94" cy="841.5" r="2.1" fill="#000" />
<circle cx="1140.94" cy="846" r="2.1" fill="#000" />
<circle cx="1136.44" cy="851.5" r="2.1" fill="#000" />
<line x1="1155.5" y1="959.5" x2="1155.5" y2="964.5" stroke="#000" stroke-width="1" />
<line x1="1152" y1="959.5" x2="1159" y2="959.5" stroke="#000" stroke-width="1" />
<line x1="1152" y1="964.5" x2="1159" y2="964.5" stroke="#000" stroke-width="1" />
<circle cx="1151.34" cy="963.5" r="2.1" fill="#000" />
<circle cx="1155.84" cy="959.5" r="2.1" fill="#000" />
<circle cx="1160.34" cy="962.5" r="2.1" fill="#000" />
<line x1="1175.5" y1="857" x2="1175.5" y2="869" stroke="#000" stroke-width="1" />
<line x1="1172" y1="856.5" x2="1179" y2="856.5" stroke="#000" stroke-width="1" />
<line x1="1172" y1="868.5" x2="1179" y2="868.5" stroke="#000" stroke-width="1" />
<circle cx="1175.24" cy="856.5" r="2.1" fill="#000" />
<circle cx="1170.24" cy="867.5" r="2.1" fill="#000" />
<circle cx="1179.74" cy="867" r="2.1" fill="#000" />
<line x1="1194.5" y1="956.5" x2="1194.5" y2="964.5" stroke="#000" stroke-width="1" />
<line x1="1191" y1="956.5" x2="1198" y2="956.5" stroke="#000" stroke-width="1" />
<line x1="1191" y1="964.5" x2="1198" y2="964.5" stroke="#000" stroke-width="1" />
<circle cx="1190.14" cy="956" r="2.1" fill="#000" />
<circle cx="1190.64" cy="963" r="2.1" fill="#000" />
<circle cx="1199.64" cy="961.8" r="2.1" fill="#000" />
<line x1="1246.5" y1="647.5" x2="1246.5" y2="694.5" stroke="#000" stroke-width="1" />
<line x1="1243" y1="647.5" x2="1250" y2="647.5" stroke="#000" stroke-width="1" />
<line x1="1243" y1="694.5" x2="1250" y2="694.5" stroke="#000" stroke-width="1" />
<circle cx="1246.66" cy="652.5" r="2.1" fill="#000" />
<circle cx="1246.66" cy="661.5" r="2.1" fill="#000" />
<circle cx="1246.66" cy="694.5" r="2.1" fill="#000" />
<line x1="1266.5" y1="972" x2="1266.5" y2="974" stroke="#000" stroke-width="1" />
<line x1="1263" y1="972.5" x2="1270" y2="972.5" stroke="#000" stroke-width="1" />
<line x1="1263" y1="974.5" x2="1270" y2="974.5" stroke="#000" stroke-width="1" />
<circle cx="1261.56" cy="973" r="2.1" fill="#000" />
<circle cx="1266.06" cy="972.6" r="2.1" fill="#000" />
<circle cx="1270.56" cy="973" r="2.1" fill="#000" />
<line x1="1285.5" y1="615" x2="1285.5" y2="627.5" stroke="#000" stroke-width="1" />
<line x1="1282" y1="614.5" x2="1289" y2="614.5" stroke="#000" stroke-width="1" />
<line x1="1282" y1="627.5" x2="1289" y2="627.5" stroke="#000" stroke-width="1" />
<circle cx="1285.46" cy="614" r="2.1" fill="#000" />
<circle cx="1280.96" cy="626" r="2.1" fill="#000" />
<circle cx="1289.96" cy="624.5" r="2.1" fill="#000" />
<line x1="1304.5" y1="973.5" x2="1304.5" y2="977" stroke="#000" stroke-width="1" />
<line x1="1301" y1="973.5" x2="1308" y2="973.5" stroke="#000" stroke-width="1" />
<line x1="1301" y1="976.5" x2="1308" y2="976.5" stroke="#000" stroke-width="1" />
<circle cx="1300.36" cy="976" r="2.1" fill="#000" />
<circle cx="1304.86" cy="974" r="2.1" fill="#000" />
<circle cx="1309.36" cy="975" r="2.1" fill="#000" />
<line x1="1356.5" y1="634.5" x2="1356.5" y2="638.5" stroke="#000" stroke-width="1" />
<line x1="1353" y1="634.5" x2="1360" y2="634.5" stroke="#000" stroke-width="1" />
<line x1="1353" y1="638.5" x2="1360" y2="638.5" stroke="#000" stroke-width="1" />
<circle cx="1352.38" cy="638.5" r="2.1" fill="#000" />
<circle cx="1356.88" cy="634" r="2.1" fill="#000" />
<circle cx="1361.38" cy="636" r="2.1" fill="#000" />
<line x1="1376.5" y1="969.5" x2="1376.5" y2="975" stroke="#000" stroke-width="1" />
<line x1="1373" y1="969.5" x2="1380" y2="969.5" stroke="#000" stroke-width="1" />
<line x1="1373" y1="974.5" x2="1380" y2="974.5" stroke="#000" stroke-width="1" />
<circle cx="1371.78" cy="974" r="2.1" fill="#000" />
<circle cx="1376.28" cy="970" r="2.1" fill="#000" />
<circle cx="1380.78" cy="972" r="2.1" fill="#000" />
<line x1="1395.5" y1="609" x2="1395.5" y2="641" stroke="#000" stroke-width="1" />
<line x1="1392" y1="608.5" x2="1399" y2="608.5" stroke="#000" stroke-width="1" />
<line x1="1392" y1="640.5" x2="1399" y2="640.5" stroke="#000" stroke-width="1" />
<circle cx="1390.68" cy="613.5" r="2.1" fill="#000" />
<circle cx="1400.18" cy="617" r="2.1" fill="#000" />
<circle cx="1395.68" cy="641" r="2.1" fill="#000" />
<line x1="1415.5" y1="968.5" x2="1415.5" y2="970.6" stroke="#000" stroke-width="1" />
<line x1="1412" y1="968.5" x2="1419" y2="968.5" stroke="#000" stroke-width="1" />
<line x1="1412" y1="970.5" x2="1419" y2="970.5" stroke="#000" stroke-width="1" />
<circle cx="1410.58" cy="969.8" r="2.1" fill="#000" />
<circle cx="1415.08" cy="968.8" r="2.1" fill="#000" />
<circle cx="1419.58" cy="969.8" r="2.1" fill="#000" />
<line x1="1467.5" y1="789" x2="1467.5" y2="797" stroke="#000" stroke-width="1" />
<line x1="1464" y1="788.5" x2="1471" y2="788.5" stroke="#000" stroke-width="1" />
<line x1="1464" y1="796.5" x2="1471" y2="796.5" stroke="#000" stroke-width="1" />
<circle cx="1467.1" cy="788.5" r="2.1" fill="#000" />
<circle cx="1462.6" cy="795.5" r="2.1" fill="#000" />
<circle cx="1471.6" cy="795.5" r="2.1" fill="#000" />
<line x1="1486.5" y1="977.5" x2="1486.5" y2="985" stroke="#000" stroke-width="1" />
<line x1="1483" y1="977.5" x2="1490" y2="977.5" stroke="#000" stroke-width="1" />
<line x1="1483" y1="984.5" x2="1490" y2="984.5" stroke="#000" stroke-width="1" />
<circle cx="1486.5" cy="977.5" r="2.1" fill="#000" />
<circle cx="1482" cy="983" r="2.1" fill="#000" />
<circle cx="1491" cy="983" r="2.1" fill="#000" />
<line x1="1505.5" y1="741" x2="1505.5" y2="763" stroke="#000" stroke-width="1" />
<line x1="1502" y1="740.5" x2="1509" y2="740.5" stroke="#000" stroke-width="1" />
<line x1="1502" y1="762.5" x2="1509" y2="762.5" stroke="#000" stroke-width="1" />
<circle cx="1505.9" cy="740" r="2.1" fill="#000" />
<circle cx="1500.9" cy="760" r="2.1" fill="#000" />
<circle cx="1510.4" cy="758" r="2.1" fill="#000" />
<line x1="1525.5" y1="979.5" x2="1525.5" y2="983.5" stroke="#000" stroke-width="1" />
<line x1="1522" y1="979.5" x2="1529" y2="979.5" stroke="#000" stroke-width="1" />
<line x1="1522" y1="983.5" x2="1529" y2="983.5" stroke="#000" stroke-width="1" />
<circle cx="1520.8" cy="982.5" r="2.1" fill="#000" />
<circle cx="1525.3" cy="980" r="2.1" fill="#000" />
<circle cx="1529.8" cy="980.5" r="2.1" fill="#000" />
<line x1="1577.5" y1="718" x2="1577.5" y2="726.5" stroke="#000" stroke-width="1" />
<line x1="1574" y1="718.5" x2="1581" y2="718.5" stroke="#000" stroke-width="1" />
<line x1="1574" y1="726.5" x2="1581" y2="726.5" stroke="#000" stroke-width="1" />
<circle cx="1572.82" cy="718" r="2.1" fill="#000" />
<circle cx="1581.82" cy="721" r="2.1" fill="#000" />
<circle cx="1577.32" cy="726.5" r="2.1" fill="#000" />
<line x1="1596.5" y1="984.5" x2="1596.5" y2="987" stroke="#000" stroke-width="1" />
<line x1="1593" y1="984.5" x2="1600" y2="984.5" stroke="#000" stroke-width="1" />
<line x1="1593" y1="986.5" x2="1600" y2="986.5" stroke="#000" stroke-width="1" />
<circle cx="1592.22" cy="986.3" r="2.1" fill="#000" />
<circle cx="1596.72" cy="984.6" r="2.1" fill="#000" />
<circle cx="1601.22" cy="986" r="2.1" fill="#000" />
<line x1="1616.5" y1="757" x2="1616.5" y2="766" stroke="#000" stroke-width="1" />
<line x1="1613" y1="756.5" x2="1620" y2="756.5" stroke="#000" stroke-width="1" />
<line x1="1613" y1="766.5" x2="1620" y2="766.5" stroke="#000" stroke-width="1" />
<circle cx="1616.12" cy="757" r="2.1" fill="#000" />
<circle cx="1611.62" cy="765" r="2.1" fill="#000" />
<circle cx="1620.62" cy="762" r="2.1" fill="#000" />
<line x1="1635.5" y1="973.5" x2="1635.5" y2="975.5" stroke="#000" stroke-width="1" />
<line x1="1632" y1="973.5" x2="1639" y2="973.5" stroke="#000" stroke-width="1" />
<line x1="1632" y1="975.5" x2="1639" y2="975.5" stroke="#000" stroke-width="1" />
<circle cx="1631.02" cy="975" r="2.1" fill="#000" />
<circle cx="1635.52" cy="973.6" r="2.1" fill="#000" />
<circle cx="1640.02" cy="974" r="2.1" fill="#000" />
<text x="954.3" y="1036.3" font-size="27" text-anchor="end" font-style="italic" transform="rotate(-90 954.3 1036.3)">HEK3</text>
<text x="1064.4" y="1036.3" font-size="27" text-anchor="end" font-style="italic" transform="rotate(-90 1064.4 1036.3)">RNF2</text>
<text x="1174.5" y="1036.3" font-size="27" text-anchor="end" font-style="italic" transform="rotate(-90 1174.5 1036.3)">VEGFA</text>
<text x="1284.6" y="1036.3" font-size="27" text-anchor="end" font-style="italic" transform="rotate(-90 1284.6 1036.3)">FANCF</text>
<text x="1394.7" y="1036.3" font-size="27" text-anchor="end" font-style="italic" transform="rotate(-90 1394.7 1036.3)">HBB</text>
<text x="1504.8" y="1036.3" font-size="27" text-anchor="end" font-style="italic" transform="rotate(-90 1504.8 1036.3)">HEXA</text>
<text x="1614.9" y="1036.3" font-size="27" text-anchor="end" font-style="italic" transform="rotate(-90 1614.9 1036.3)">PSEN1</text>
<rect x="940" y="545.5" width="19.5" height="18.5" fill="#8688c0" />
<rect x="940" y="570.25" width="19.5" height="18.5" fill="#f26522" />
<rect x="940" y="594.5" width="19.5" height="18.5" fill="#bdbdbd" />
<text x="972" y="563" font-size="22.85">PE3 precise editing</text>
<text x="972" y="587" font-size="22.85">sPE precise editing</text>
<text x="972" y="611.25" font-size="22.85">Indels</text>
<text x="818.75" y="801.5" font-size="27.85" text-anchor="middle" transform="rotate(-90 818.75 801.5)">Editing or indels (%)</text>
<text x="956.9" y="854.6" font-size="28.5" text-anchor="middle">*</text>
<text x="1069.7" y="935.1" font-size="28.5" text-anchor="middle" letter-spacing="3.4">**</text>
<text x="1175.2" y="853.3" font-size="28.5" text-anchor="middle">*</text>
<text x="1284.3" y="610.8" font-size="28.5" text-anchor="middle">*</text>
<text x="1507.5" y="739.6" font-size="28.5" text-anchor="middle">*</text>
<text x="1618.8" y="755.1" font-size="28.5" text-anchor="middle" letter-spacing="3.4">**</text>
<text transform="translate(1703.46 554.25) scale(0.9 1)" font-size="32" font-weight="bold">f</text>
<line x1="1787.5" y1="560" x2="1787.5" y2="1020" stroke="#111" stroke-width="1.2" />
<line x1="1778" y1="599.5" x2="1787.5" y2="599.5" stroke="#777" stroke-width="1.6" />
<text x="1766.7" y="609.1" font-size="27.8" text-anchor="end">6</text>
<line x1="1778" y1="740.5" x2="1787.5" y2="740.5" stroke="#777" stroke-width="1.6" />
<text x="1766.7" y="749.35" font-size="27.8" text-anchor="end">4</text>
<line x1="1778" y1="880.5" x2="1787.5" y2="880.5" stroke="#777" stroke-width="1.6" />
<text x="1766.7" y="889.35" font-size="27.8" text-anchor="end">2</text>
<line x1="1778" y1="1020.5" x2="1787.5" y2="1020.5" stroke="#777" stroke-width="1.6" />
<text x="1766.7" y="1029.35" font-size="27.8" text-anchor="end">0</text>
<line x1="1778.25" y1="1020" x2="2027.5" y2="1020" stroke="#6e6e6e" stroke-width="1.8" />
<line x1="1845.5" y1="1020" x2="1845.5" y2="1029.3" stroke="#6e6e6e" stroke-width="1.8" />
<line x1="1962.5" y1="1020" x2="1962.5" y2="1029.3" stroke="#6e6e6e" stroke-width="1.8" />
<rect x="1804.5" y="676.5" width="16" height="342.6" fill="#8688c0" stroke="#333" stroke-width="1" />
<rect x="1826.5" y="854.5" width="16" height="164.6" fill="#bdbdbd" stroke="#333" stroke-width="1" />
<rect x="1847.5" y="760.5" width="16" height="260.7" fill="#f26522" stroke="#111" stroke-width="1.1" />
<rect x="1868.5" y="852.5" width="16" height="166.6" fill="#bdbdbd" stroke="#333" stroke-width="1" />
<rect x="1922.5" y="948.5" width="16" height="70.6" fill="#8688c0" stroke="#333" stroke-width="1" />
<rect x="1943.5" y="893.5" width="16" height="125.6" fill="#bdbdbd" stroke="#333" stroke-width="1" />
<rect x="1964.5" y="952.5" width="16" height="68.7" fill="#f26522" stroke="#111" stroke-width="1.1" />
<rect x="1985.5" y="894.5" width="16" height="124.6" fill="#bdbdbd" stroke="#333" stroke-width="1" />
<line x1="1812.5" y1="662.5" x2="1812.5" y2="687.5" stroke="#000" stroke-width="1" />
<line x1="1808.75" y1="687.5" x2="1816.25" y2="687.5" stroke="#000" stroke-width="1" />
<circle cx="1813" cy="662" r="2.1" fill="#000" />
<circle cx="1813" cy="679.5" r="2.1" fill="#000" />
<circle cx="1813" cy="685.5" r="2.1" fill="#000" />
<line x1="1834.5" y1="843.75" x2="1834.5" y2="863.25" stroke="#000" stroke-width="1" />
<line x1="1830.75" y1="843.5" x2="1838.25" y2="843.5" stroke="#000" stroke-width="1" />
<line x1="1830.75" y1="863.5" x2="1838.25" y2="863.5" stroke="#000" stroke-width="1" />
<circle cx="1834" cy="843.75" r="2.1" fill="#000" />
<circle cx="1834" cy="854.25" r="2.1" fill="#000" />
<circle cx="1834" cy="862.5" r="2.1" fill="#000" />
<line x1="1854.5" y1="737" x2="1854.5" y2="782" stroke="#000" stroke-width="1" />
<line x1="1850.75" y1="736.5" x2="1858.25" y2="736.5" stroke="#000" stroke-width="1" />
<line x1="1850.75" y1="782.5" x2="1858.25" y2="782.5" stroke="#000" stroke-width="1" />
<circle cx="1855" cy="734" r="2.1" fill="#000" />
<circle cx="1852.5" cy="773" r="2.1" fill="#000" />
<circle cx="1857.5" cy="771.5" r="2.1" fill="#000" />
<line x1="1876.5" y1="840.75" x2="1876.5" y2="864.25" stroke="#000" stroke-width="1" />
<line x1="1872.75" y1="840.5" x2="1880.25" y2="840.5" stroke="#000" stroke-width="1" />
<line x1="1872.75" y1="864.5" x2="1880.25" y2="864.5" stroke="#000" stroke-width="1" />
<circle cx="1876.25" cy="842.5" r="2.1" fill="#000" />
<circle cx="1876.25" cy="848" r="2.1" fill="#000" />
<circle cx="1876.25" cy="863.75" r="2.1" fill="#000" />
<line x1="1930.5" y1="934" x2="1930.5" y2="961.25" stroke="#000" stroke-width="1" />
<line x1="1926.75" y1="934.5" x2="1934.25" y2="934.5" stroke="#000" stroke-width="1" />
<line x1="1926.75" y1="961.5" x2="1934.25" y2="961.5" stroke="#000" stroke-width="1" />
<circle cx="1930" cy="931" r="2.1" fill="#000" />
<circle cx="1927.5" cy="954.5" r="2.1" fill="#000" />
<circle cx="1932.5" cy="954.5" r="2.1" fill="#000" />
<line x1="1951.5" y1="887.5" x2="1951.5" y2="897" stroke="#000" stroke-width="1" />
<line x1="1947.75" y1="887.5" x2="1955.25" y2="887.5" stroke="#000" stroke-width="1" />
<line x1="1947.75" y1="896.5" x2="1955.25" y2="896.5" stroke="#000" stroke-width="1" />
<circle cx="1951.25" cy="887" r="2.1" fill="#000" />
<circle cx="1949.45" cy="895.75" r="2.1" fill="#000" />
<circle cx="1953.45" cy="895" r="2.1" fill="#000" />
<line x1="1972.5" y1="941.25" x2="1972.5" y2="958.75" stroke="#000" stroke-width="1" />
<line x1="1968.75" y1="941.5" x2="1976.25" y2="941.5" stroke="#000" stroke-width="1" />
<line x1="1968.75" y1="958.5" x2="1976.25" y2="958.5" stroke="#000" stroke-width="1" />
<circle cx="1972.25" cy="942.5" r="2.1" fill="#000" />
<circle cx="1972.25" cy="948" r="2.1" fill="#000" />
<circle cx="1972.25" cy="958.25" r="2.1" fill="#000" />
<line x1="1993.5" y1="884.5" x2="1993.5" y2="905" stroke="#000" stroke-width="1" />
<line x1="1989.75" y1="884.5" x2="1997.25" y2="884.5" stroke="#000" stroke-width="1" />
<line x1="1989.75" y1="904.5" x2="1997.25" y2="904.5" stroke="#000" stroke-width="1" />
<circle cx="1991" cy="887.5" r="2.1" fill="#000" />
<circle cx="1996" cy="890" r="2.1" fill="#000" />
<circle cx="1993.5" cy="904.5" r="2.1" fill="#000" />
<rect x="1796.5" y="550.5" width="19.25" height="18" fill="#8688c0" />
<rect x="1796.5" y="573" width="19.25" height="18.25" fill="#f26522" />
<rect x="1796.5" y="597" width="19.25" height="18.5" fill="#bdbdbd" />
<text x="1827.8" y="566.6" font-size="23.05">Tethered PE precise editing</text>
<text x="1827.8" y="590.4" font-size="23.05">sPE precise editing</text>
<text x="1827.8" y="614.2" font-size="23.05">Indels</text>
<text x="1726.25" y="793.5" font-size="27.8" text-anchor="middle" transform="rotate(-90 1726.25 793.5)">Editing or indels (%)</text>
<text x="1859" y="732" font-size="28.5" text-anchor="middle" letter-spacing="3.4">**</text>
<text x="1846.5" y="1061.75" font-size="27" text-anchor="middle" font-style="italic">E.r.</text>
<text x="1845" y="1094.5" font-size="27" text-anchor="middle">maturase</text>
<text x="1845" y="1126.75" font-size="27" text-anchor="middle">RT</text>
<text x="1962" y="1061.75" font-size="27" text-anchor="middle">GsI-IIC</text>
<text x="1962" y="1094.5" font-size="27" text-anchor="middle">RT</text>
<text transform="translate(-0.25 1268.6) scale(0.9 1)" font-size="32" font-weight="bold">g</text>
<text x="188" y="1326.75" font-size="27.15">Transposon Myc + PE3 or sPE</text>
<text x="274.8" y="1472" font-size="27.3" text-anchor="end">Hydrodynamic</text>
<text x="274.8" y="1504.25" font-size="27.3" text-anchor="end">injection</text>
<filter id="soft" x="-5%" y="-5%" width="110%" height="110%"><feGaussianBlur stdDeviation="0.45"/></filter>
<g fill="none" stroke="#9c9c9c" stroke-width="1.35" stroke-linecap="round" stroke-linejoin="round" filter="url(#soft)" opacity="0.85">
<path d="M 319.31 1422.66 C 320.08 1399.5 335.52 1370.15 374.13 1355.48 C 395.75 1348.53 423.55 1350.08 446.72 1356.25 C 457.53 1359.34 465.25 1363.98 469.88 1368.61"/>
<path d="M 469.88 1368.61 C 477.61 1369.38 485.33 1367.07 497.68 1363.2 L 497.68 1350.08 C 503.86 1346.99 513.13 1347.76 517.76 1353.17 L 519.31 1365.52 C 531.66 1374.79 547.1 1388.69 561 1404.13 C 565.64 1410.31 565.64 1418.03 561 1422.66"/>
<path d="M 485.33 1367.07 C 496.14 1364.29 508.49 1364.29 519.31 1366.29"/>
<path d="M 469.88 1368.61 C 463.71 1374.79 460.62 1382.51 465.25 1387.92 C 469.88 1391.78 477.61 1393.32 482.24 1387.14 C 485.33 1380.97 483.78 1373.24 482.24 1369.38"/>
<path d="M 474.52 1382.51 C 473.75 1385.6 475.29 1388.69 477.61 1389.46"/>
<path d="M 455.98 1416.49 C 462.16 1427.3 477.61 1431.93 497.68 1432.7 C 516.22 1431.93 539.38 1428.84 561 1424.21"/>
<path d="M 513.13 1427.3 C 523.94 1421.12 534.75 1418.03 547.1 1415.71"/>
<path d="M 554.83 1414.94 C 557.92 1418.03 561 1421.12 561 1423.44"/>
<path d="M 564.09 1411.85 L 565.64 1419.58"/>
<path d="M 564.09 1399.5 C 571.81 1393.32 582.63 1389.46 599.61 1389.46"/>
<path d="M 565.64 1410.31 C 577.99 1408.76 590.35 1410.31 601.16 1412.63"/>
<path d="M 567.18 1416.49 C 581.08 1418.03 593.44 1422.66 605.79 1430.39"/>
<path d="M 537.84 1428.84 C 528.57 1441.2 519.31 1453.55 513.9 1475.17"/>
<path d="M 540.93 1431.93 C 536.29 1442.74 533.2 1453.55 532.43 1467.45"/>
<path d="M 387.26 1404.13 C 392.66 1413.4 394.21 1425.75 392.66 1438.11 C 391.89 1442.74 389.58 1445.83 384.94 1448.15"/>
<path d="M 339.38 1447.37 L 340.15 1456.64 C 354.05 1458.19 364.86 1459.73 374.13 1462.82 C 386.49 1465.91 398.84 1465.91 408.11 1464.36 L 411.2 1458.19 C 400.39 1452.01 386.49 1449.69 374.13 1449.69 C 361.78 1449.69 350.97 1448.92 339.38 1447.37"/>
<path d="M 392.66 1447.37 C 400.39 1448.92 408.11 1452.01 414.29 1456.64"/>
<path d="M 341.7 1452.01 C 361.78 1453.55 380.31 1454.32 398.84 1455.87"/>
<path d="M 418.92 1438.11 C 422.01 1448.92 429.73 1456.64 440.54 1461.27 C 451.35 1461.27 463.71 1458.19 472.97 1450.46 C 477.61 1444.29 480.69 1438.11 482.24 1433.47"/>
<path d="M 482.24 1433.47 C 488.42 1436.56 497.68 1438.11 503.86 1439.65 L 506.95 1447.37 C 503.86 1452.01 499.23 1453.55 497.68 1452.01 C 491.51 1450.46 482.24 1448.92 476.06 1448.15"/>
<path d="M 482.24 1436.56 C 489.96 1438.88 497.68 1440.42 503.86 1442.74"/>
<path d="M 440.54 1461.27 L 442.08 1466.68 C 451.35 1469 460.62 1471.31 469.88 1472.08 C 477.61 1470.54 482.24 1467.45 482.24 1464.36 C 479.15 1461.27 474.52 1459.73 469.88 1458.19"/>
<path d="M 319.31 1422.66 C 313.9 1438.11 315.44 1461.27 323.17 1481.35 C 330.89 1496.8 346.33 1506.06 364.86 1509.92 C 380.31 1513.01 398.84 1513.78 414.29 1512.24 L 415.06 1509.15 C 398.84 1506.06 380.31 1502.97 361.78 1499.88 C 346.33 1495.25 333.98 1484.44 329.34 1469 C 326.25 1458.19 325.48 1447.37 326.25 1438.11"/>
<path d="M 321.62 1425.75 C 323.17 1435.02 327.8 1441.2 338.61 1447.37"/>
<path d="M 316.99 1425.75 C 313.13 1441.2 314.67 1462.82 321.62 1481.35"/>
</g>
<ellipse cx="516.22" cy="1401.35" rx="8.8" ry="6.3" fill="#0a0a0a" transform="rotate(22 516.22 1401.35)" filter="url(#soft)"/>
<ellipse cx="518.42" cy="1402.55" rx="2.2" ry="1.4" fill="#555" transform="rotate(22 516.22 1401.35)"/>
<g fill="none" stroke="#000" stroke-linecap="round" stroke-linejoin="round">
<path d="M 197.3 1379.11 L 213.67 1358.57" stroke-width="5"/>
<path d="M 205.48 1369.38 L 226.33 1385.6" stroke-width="4.2"/>
<path d="M 237.45 1377.57 L 302.32 1430.69 L 285.33 1452.32 L 220.46 1396.1 Z" stroke-width="4.7" fill="#fff"/>
<path d="M 302.32 1430.69 L 306.95 1449.23 L 285.33 1452.32 Z" stroke-width="4.2" fill="#000"/>
<path d="M 297.68 1444.59 L 302.32 1441.51 L 303.24 1448.61 Z" stroke="none" fill="#fff"/>
<path d="M 305.41 1450.77 L 317.92 1462.51" stroke-width="4.9"/>
<ellipse cx="227.57" cy="1385.91" rx="11.2" ry="5" stroke-width="4.6" fill="#fff" transform="rotate(-50 227.57 1385.91)"/>
<path d="M 205.48 1369.38 L 229.11 1387.92" stroke-width="4.2"/>
<path d="M 254.44 1405.21 C 256.29 1409.85 252.12 1414.17 246.72 1414.48" stroke-width="3.4"/>
<path d="M 265.87 1413.71 C 267.72 1418.34 263.55 1422.66 258.15 1422.97" stroke-width="3.4"/>
<path d="M 275.75 1422.97 C 277.61 1427.61 273.44 1431.93 268.03 1432.24" stroke-width="3.4"/>
<path d="M 285.02 1431.93 C 286.87 1436.56 282.7 1440.89 277.3 1441.2" stroke-width="3.4"/>
</g>
<text x="421" y="1566.75" font-size="27.3" text-anchor="middle">Oncogenic <tspan font-style="italic">Ctnnb1</tspan> S45 deletion</text>
<text x="394" y="1600" font-size="27.3" text-anchor="middle" fill="#ed1c24">S45</text>
<line x1="369.25" y1="1606.75" x2="416.75" y2="1606.75" stroke="#000" stroke-width="3" />
<text x="127.8" y="1637.5" font-size="27">DNA</text>
<text x="200.5" y="1637.5" font-size="27.3">5′</text>
<text x="749" y="1637.5" font-size="27.3">3′</text>
<text x="226.25" y="1632.6" font-size="27.7" text-anchor="middle" style='font-family:"Liberation Mono","DejaVu Sans Mono",monospace'>.</text>
<text x="243.2" y="1632.6" font-size="27.7" text-anchor="middle" style='font-family:"Liberation Mono","DejaVu Sans Mono",monospace'>.</text>
<text x="260.1" y="1632.6" font-size="27.7" text-anchor="middle" style='font-family:"Liberation Mono","DejaVu Sans Mono",monospace'>.</text>
<text x="267.4" y="1632.6" font-size="27.7" style='font-family:"Liberation Mono","DejaVu Sans Mono",monospace' textLength="99.72" lengthAdjust="spacingAndGlyphs" stroke="#fff" stroke-width="0.55" paint-order="fill stroke">GCTCCT</text>
<text x="367.12" y="1632.6" font-size="27.7" fill="#ed1c24" style='font-family:"Liberation Mono","DejaVu Sans Mono",monospace' textLength="49.86" lengthAdjust="spacingAndGlyphs" stroke="#fff" stroke-width="0.55" paint-order="fill stroke">TCC</text>
<text x="416.98" y="1632.6" font-size="27.7" style='font-family:"Liberation Mono","DejaVu Sans Mono",monospace' textLength="282.54" lengthAdjust="spacingAndGlyphs" stroke="#fff" stroke-width="0.55" paint-order="fill stroke">CTGAGTGGCAAGGGCAA</text>
<text x="705.6" y="1632.6" font-size="27.7" text-anchor="middle" style='font-family:"Liberation Mono","DejaVu Sans Mono",monospace'>.</text>
<text x="723.3" y="1632.6" font-size="27.7" text-anchor="middle" style='font-family:"Liberation Mono","DejaVu Sans Mono",monospace'>.</text>
<text x="740.9" y="1632.6" font-size="27.7" text-anchor="middle" style='font-family:"Liberation Mono","DejaVu Sans Mono",monospace'>.</text>
<text x="267.4" y="1664.5" font-size="27.7" fill="#92278f" style='font-family:"Liberation Mono","DejaVu Sans Mono",monospace' textLength="99.72" lengthAdjust="spacingAndGlyphs" stroke="#fff" stroke-width="0.55" paint-order="fill stroke">GCUCCU</text>
<text transform="translate(375.43 1664.5) scale(1.8 1)" text-anchor="middle" font-size="27.7" fill="#92278f" style='font-family:"Liberation Mono","DejaVu Sans Mono",monospace' stroke="#fff" stroke-width="0.3" paint-order="fill stroke">-</text>
<text transform="translate(392.05 1664.5) scale(1.8 1)" text-anchor="middle" font-size="27.7" fill="#92278f" style='font-family:"Liberation Mono","DejaVu Sans Mono",monospace' stroke="#fff" stroke-width="0.3" paint-order="fill stroke">-</text>
<text transform="translate(408.67 1664.5) scale(1.8 1)" text-anchor="middle" font-size="27.7" fill="#92278f" style='font-family:"Liberation Mono","DejaVu Sans Mono",monospace' stroke="#fff" stroke-width="0.3" paint-order="fill stroke">-</text>
<text x="416.98" y="1664.5" font-size="27.7" fill="#92278f" style='font-family:"Liberation Mono","DejaVu Sans Mono",monospace' textLength="66.48" lengthAdjust="spacingAndGlyphs" stroke="#fff" stroke-width="0.55" paint-order="fill stroke">CUGA</text>
<text x="483.46" y="1664.5" font-size="27.7" fill="#2bb673" style='font-family:"Liberation Mono","DejaVu Sans Mono",monospace' textLength="216.06" lengthAdjust="spacingAndGlyphs" stroke="#fff" stroke-width="0.55" paint-order="fill stroke">GUGGCAAGGGCAA</text>
<text x="109.4" y="1677.5" font-size="27.2" fill="#be1e2d">pegRNA</text>
<text x="271.8" y="1694.7" font-size="27.3" fill="#92278f">RTT</text>
<text x="569" y="1697" font-size="27.2" fill="#2bb673">PBS</text>
<text x="330.3" y="1732.5" font-size="27.1" fill="#ed1c24">3-bp deletion</text>
<line x1="392.75" y1="1709" x2="392.75" y2="1680" stroke="#000" stroke-width="3.6" />
<path d="M392.75 1664 L401.3 1685.5 L392.75 1681.5 L384.2 1685.5 Z" fill="#000" />
<path d="M 268.25 1658.75 C 267 1666.25 262.5 1671.25 252.5 1672.5 C 242.5 1673.75 233.75 1672.5 229.5 1677.5 C 227 1680.5 226.5 1683 227 1685.5" fill="none" stroke="#92278f" stroke-width="3.3" stroke-linecap="round"/>
<path d="M 227 1685 C 230 1690 227 1694.25 221.25 1693.75 C 212.5 1693 207.5 1690 203.75 1685.5 C 200 1681.25 193.75 1681.25 190 1685.5 C 187 1690 188 1696.25 193.75 1699.25 C 200 1702 206.25 1697 213.75 1696.5 C 221.25 1696.25 225 1701.25 224.5 1707.5 C 223.75 1713.75 218.75 1716.25 211.25 1717 L 173.75 1720.5 C 165 1721.25 160.75 1725 161.25 1730 C 161.75 1735.5 166.25 1738.75 173.75 1738 L 237.5 1732.5 C 243.75 1732 247 1737.5 247 1743.75 C 247 1751.25 243.75 1755.75 237.5 1756.25 L 151.25 1762" fill="none" stroke="#be1e2d" stroke-width="3.3" stroke-linecap="butt" stroke-linejoin="round"/>
<path d="M 175 1720.5 L 175.75 1734.5" stroke="#be1e2d" stroke-width="1.5"/>
<path d="M 182.5 1719.9 L 183.25 1733.9" stroke="#be1e2d" stroke-width="1.5"/>
<path d="M 190 1719.3 L 190.75 1733.3" stroke="#be1e2d" stroke-width="1.5"/>
<path d="M 197.5 1718.7 L 198.25 1732.7" stroke="#be1e2d" stroke-width="1.5"/>
<path d="M 205 1718.1 L 205.75 1732.1" stroke="#be1e2d" stroke-width="1.5"/>
<path d="M 212.5 1717.5 L 213.25 1731.5" stroke="#be1e2d" stroke-width="1.5"/>
<text transform="translate(794.98 1268.75) scale(0.9 1)" font-size="32" font-weight="bold">h</text>
<line x1="1002.5" y1="1270" x2="1002.5" y2="1671.25" stroke="#333" stroke-width="1.2" />
<line x1="993" y1="1270.5" x2="1002.5" y2="1270.5" stroke="#333" stroke-width="1.2" />
<text x="981.4" y="1279.35" font-size="27.8" text-anchor="end">20</text>
<line x1="993" y1="1371.5" x2="1002.5" y2="1371.5" stroke="#333" stroke-width="1.2" />
<text x="981.4" y="1380.6" font-size="27.8" text-anchor="end">15</text>
<line x1="993" y1="1471.5" x2="1002.5" y2="1471.5" stroke="#333" stroke-width="1.2" />
<text x="981.4" y="1480.6" font-size="27.8" text-anchor="end">10</text>
<line x1="993" y1="1570.5" x2="1002.5" y2="1570.5" stroke="#333" stroke-width="1.2" />
<text x="981.4" y="1579.85" font-size="27.8" text-anchor="end">5</text>
<line x1="993" y1="1671.5" x2="1002.5" y2="1671.5" stroke="#333" stroke-width="1.2" />
<text x="981.4" y="1680.6" font-size="27.8" text-anchor="end">0</text>
<line x1="993" y1="1671.5" x2="1270.75" y2="1671.5" stroke="#444" stroke-width="1.4" />
<line x1="1077.5" y1="1671.5" x2="1077.5" y2="1680.8" stroke="#444" stroke-width="1.4" />
<line x1="1192.5" y1="1671.5" x2="1192.5" y2="1680.8" stroke="#444" stroke-width="1.4" />
<rect x="1035.75" y="1479" width="69.75" height="192.25" fill="#8688c0" stroke="#000" stroke-width="3" />
<rect x="1149.5" y="1429.75" width="70.25" height="241.5" fill="#f26522" stroke="#000" stroke-width="3" />
<line x1="993" y1="1671.25" x2="1270.75" y2="1671.25" stroke="#444" stroke-width="1.4" />
<line x1="1070.5" y1="1426.25" x2="1070.5" y2="1526.25" stroke="#000" stroke-width="1.7" />
<line x1="1055.75" y1="1426.25" x2="1086.25" y2="1426.25" stroke="#000" stroke-width="1.7" />
<line x1="1051.25" y1="1526.25" x2="1090" y2="1526.25" stroke="#000" stroke-width="1.7" />
<line x1="1184.75" y1="1361.75" x2="1184.75" y2="1492.75" stroke="#000" stroke-width="1.7" />
<line x1="1165.75" y1="1361.75" x2="1203.75" y2="1361.75" stroke="#000" stroke-width="1.7" />
<line x1="1165.75" y1="1492.75" x2="1203.75" y2="1492.75" stroke="#000" stroke-width="1.7" />
<circle cx="1070.5" cy="1411.25" r="6.2" fill="#000" />
<circle cx="1070.5" cy="1471.25" r="6.2" fill="#000" />
<circle cx="1070.5" cy="1491.5" r="6.2" fill="#000" />
<circle cx="1070.5" cy="1532" r="6.2" fill="#000" />
<circle cx="1184.75" cy="1331.25" r="6.2" fill="#000" />
<circle cx="1184.75" cy="1391.25" r="6.2" fill="#000" />
<circle cx="1184.75" cy="1451.25" r="6.2" fill="#000" />
<circle cx="1184.75" cy="1471.25" r="6.2" fill="#000" />
<circle cx="1184.75" cy="1491.75" r="6.2" fill="#000" />
<text x="1078.75" y="1715.5" font-size="30" text-anchor="middle">PE3</text>
<text x="1192" y="1715.5" font-size="30" text-anchor="middle">sPE</text>
<text x="928" y="1470" font-size="27.15" text-anchor="middle" transform="rotate(-90 928 1470)">Number of tumors per liver</text>
<text transform="translate(1468.48 1268.75) scale(0.9 1)" font-size="32" font-weight="bold">i</text>
<text x="1612" y="1296.25" font-size="27"><tspan style="font-family:'Liberation Serif','DejaVu Serif',serif" font-size="25">β</tspan>-Catenin IHC</text>
<text x="1469" y="1445" font-size="27">PE3</text>
<text x="1468.5" y="1694.6" font-size="27">sPE</text>
<defs>
<clipPath id="c1"><rect x="1531" y="1310" width="331" height="247.4"/></clipPath>
<clipPath id="c2"><rect x="1531" y="1562.6" width="331" height="248.4"/></clipPath>
<filter id="fliver" x="0" y="0" width="100%" height="100%" color-interpolation-filters="sRGB">
<feTurbulence type="fractalNoise" baseFrequency="0.09 0.2" numOctaves="3" seed="11" result="n"/>
<feColorMatrix in="n" type="matrix" values="1 0 0 0 0  1 0 0 0 0  1 0 0 0 0  0 0 0 0 1" result="g"/>
<feComponentTransfer in="g" result="c">
<feFuncR type="table" tableValues="0.40 0.40 0.40 0.42 0.52 0.56 0.50 0.40 0.36 0.85 0.85"/>
<feFuncG type="table" tableValues="0.44 0.44 0.44 0.46 0.51 0.48 0.33 0.22 0.19 0.75 0.75"/>
<feFuncB type="table" tableValues="0.72 0.72 0.72 0.71 0.66 0.58 0.34 0.22 0.19 0.78 0.78"/>
</feComponentTransfer>
<feComposite in="c" in2="SourceGraphic" operator="in"/>
</filter>
<filter id="fstroma" x="0" y="0" width="100%" height="100%" color-interpolation-filters="sRGB">
<feTurbulence type="fractalNoise" baseFrequency="0.11" numOctaves="3" seed="5" result="n"/>
<feColorMatrix in="n" type="matrix" values="1 0 0 0 0  1 0 0 0 0  1 0 0 0 0  0 0 0 0 1" result="g"/>
<feComponentTransfer in="g" result="c">
<feFuncR type="table" tableValues="0.42 0.42 0.42 0.46 0.54 0.60 0.61 0.53 0.45 0.5 0.5"/>
<feFuncG type="table" tableValues="0.46 0.46 0.46 0.49 0.55 0.59 0.56 0.42 0.33 0.4 0.4"/>
<feFuncB type="table" tableValues="0.70 0.70 0.70 0.70 0.71 0.71 0.65 0.48 0.38 0.45 0.45"/>
</feComponentTransfer>
<feComposite in="c" in2="SourceGraphic" operator="in"/>
</filter>
<filter id="ftumor" x="-3%" y="-3%" width="106%" height="106%" color-interpolation-filters="sRGB">
<feTurbulence type="fractalNoise" baseFrequency="0.055" numOctaves="3" seed="3" result="n"/>
<feDisplacementMap in="SourceGraphic" in2="n" scale="13" xChannelSelector="R" yChannelSelector="G" result="d"/>
<feGaussianBlur in="d" stdDeviation="0.7" result="shape"/>
<feTurbulence type="fractalNoise" baseFrequency="0.2" numOctaves="2" seed="9" result="n2"/>
<feColorMatrix in="n2" type="matrix" values="0.30 0 0 0 0.09  0.16 0 0 0 0.01  0.14 0 0 0 0.0  0 0 0 0 1" result="c"/>
<feComposite in="c" in2="shape" operator="in"/>
</filter>
<filter id="fspots" x="-3%" y="-3%" width="106%" height="106%" color-interpolation-filters="sRGB">
<feTurbulence type="fractalNoise" baseFrequency="0.13" numOctaves="2" seed="21" result="n"/>
<feColorMatrix in="n" type="matrix" values="0 0 0 0 0.62  0 0 0 0 0.64  0 0 0 0 0.84  0 0 9 0 -4.6" result="m"/>
<feComposite in="m" in2="SourceGraphic" operator="in"/>
</filter>
<filter id="frough" x="-10%" y="-10%" width="120%" height="120%">
<feTurbulence type="fractalNoise" baseFrequency="0.07" numOctaves="2" seed="14" result="n"/>
<feDisplacementMap in="SourceGraphic" in2="n" scale="10" xChannelSelector="R" yChannelSelector="G"/>
<feGaussianBlur stdDeviation="1.2"/>
</filter>
</defs>
<g clip-path="url(#c1)">
<rect x="1531" y="1310" width="331" height="248" fill="#8a82a6"/>
<g transform="rotate(38 1696 1434)"><rect x="1400" y="1200" width="600" height="480" fill="#000" filter="url(#fliver)"/></g>
<rect x="1531" y="1310" width="331" height="248" fill="#8b82a4" opacity="0.3"/>
<path d="M1558.85 1310.14L1594.32 1345.61L1638.24 1382.77L1682.16 1426.69L1710.88 1438.51L1739.59 1450.34L1763.24 1467.23L1797.03 1479.05L1810.54 1485.81L1832.5 1489.19L1862.06 1468.92L1862.06 1310.14Z" fill="#000" filter="url(#fstroma)" opacity="0.9"/>
<path d="M1552.09 1310.14L1693.99 1310.14L1688.92 1320.27L1682.16 1333.78L1672.03 1343.92L1665.27 1355.74L1677.09 1364.19L1680.47 1376.01L1688.92 1394.59L1693.99 1418.24L1692.3 1433.45L1678.78 1436.82L1663.58 1428.38L1651.76 1418.24L1638.24 1404.73L1634.86 1394.59L1628.11 1379.39L1616.28 1367.57L1601.08 1350.68L1584.19 1348.99L1570.68 1342.23L1557.16 1328.72Z M1695.68 1310.14L1827.43 1310.14L1824.05 1325.34L1815.61 1342.23L1793.65 1350.68L1790.27 1367.57L1783.51 1381.08L1756.49 1384.46L1731.15 1381.08L1719.32 1370.95L1705.81 1354.05L1695.68 1342.23L1693.99 1327.03Z M1680.47 1362.5L1705.81 1357.43L1719.32 1376.01L1727.77 1397.97L1739.59 1418.24L1749.73 1435.14L1756.49 1452.03L1756.49 1465.54L1744.66 1468.92L1732.84 1460.47L1726.08 1443.58L1705.81 1431.76L1692.3 1418.24L1685.54 1394.59L1680.47 1376.01Z M1731.15 1384.46L1773.38 1386.15L1803.78 1394.59L1810.54 1409.8L1805.47 1428.38L1797.03 1445.27L1783.51 1448.65L1770 1445.27L1756.49 1431.76L1744.66 1414.86L1736.22 1401.35Z M1768.31 1463.85L1783.51 1467.23L1803.78 1470.61L1805.47 1485.81L1797.03 1490.88L1783.51 1482.43L1773.38 1475.68Z M1753.11 1484.12L1764.93 1485.81L1766.62 1502.7L1759.86 1507.77L1744.66 1499.32L1742.97 1495.95Z M1834.19 1310.14L1854.46 1316.89L1856.15 1333.78L1849.39 1355.74L1849.39 1376.01L1837.57 1382.77L1820.68 1374.32L1817.3 1355.74L1824.05 1342.23L1832.5 1325.34Z M1851.08 1372.64L1862.91 1370.95L1862.91 1418.24L1849.39 1421.62L1837.57 1418.24L1840.95 1404.73L1851.08 1394.59Z M1824.05 1435.14L1840.95 1426.69L1862.91 1425L1862.91 1462.16L1840.95 1460.47L1829.12 1452.03Z M1852.77 1494.26L1862.91 1490.88L1862.91 1524.66L1856.15 1519.59Z M1793.65 1367.57L1807.16 1364.19L1817.3 1376.01L1824.05 1394.59L1830.81 1408.11L1817.3 1411.49L1807.16 1401.35L1797.03 1387.84Z M1697.36 1438.51L1709.19 1440.2L1712.57 1448.65L1704.12 1450.34Z" fill="#000" filter="url(#ftumor)"/>
<path d="M1638.24 1333.78L1663.58 1335.47L1672.03 1347.3L1658.51 1357.43L1641.62 1350.68Z M1677.09 1310.14L1695.68 1310.14L1697.36 1333.78L1685.54 1355.74L1672.03 1350.68L1682.16 1333.78Z M1790.27 1350.68L1807.16 1343.92L1813.92 1355.74L1798.72 1370.95L1788.58 1364.19Z M1584.19 1320.27L1590.95 1318.58L1594.32 1327.03L1587.57 1328.72Z" fill="#8f95c4" opacity="0.9" filter="url(#frough)"/>
<ellipse cx="1799" cy="1457" rx="22" ry="7.5" fill="#b9aab4" opacity="0.7" transform="rotate(14 1799 1457)" filter="url(#frough)"/>
<path d="M1531 1352L1552 1368L1568 1372" stroke="#c9c3d8" stroke-width="2" fill="none" opacity="0.8"/>
<path d="M1650 1540L1662 1557" stroke="#d6d0dc" stroke-width="4" fill="none" opacity="0.8"/>
</g>
<rect x="1801.25" y="1539.5" width="55.75" height="8" fill="#fff" />
<text x="1714.5" y="1373.25" font-size="25.4" fill="#fff" font-weight="bold">Tumor</text>
<text x="1579.5" y="1533.75" font-size="25.4" fill="#fff" font-weight="bold">Liver</text>
<g clip-path="url(#c2)">
<rect x="1531" y="1562" width="331" height="250" fill="#9c9dc0"/>
<rect x="1531" y="1562" width="331" height="250" fill="#000" filter="url(#fstroma)" opacity="0.85"/>
<ellipse cx="1742" cy="1782" rx="40" ry="38" fill="#b0b0c4" opacity="0.5" filter="url(#frough)"/>
<path d="M1572.36 1560.14L1744.66 1560.14L1753.11 1571.96L1770 1580.41L1783.51 1597.3L1793.65 1617.57L1798.72 1637.84L1797.03 1659.8L1786.89 1678.38L1770 1691.89L1753.11 1698.65L1736.22 1693.58L1722.7 1683.45L1709.19 1678.38L1695.68 1681.76L1685.54 1678.38L1687.23 1661.49L1672.03 1668.24L1655.14 1671.62L1638.24 1666.55L1628.11 1651.35L1614.59 1631.08L1604.46 1614.19L1594.32 1593.92L1584.19 1580.41Z M1764.93 1560.14L1864.59 1560.14L1864.59 1658.11L1840.95 1664.86L1815.61 1661.49L1802.09 1651.35L1803.78 1626.01L1798.72 1605.74L1788.58 1587.16L1775.07 1573.65Z M1528.45 1634.46L1553.78 1631.08L1575.74 1634.46L1590.95 1644.59L1601.08 1661.49L1614.59 1681.76L1628.11 1702.03L1634.86 1722.3L1628.11 1732.43L1611.22 1739.19L1587.57 1740.88L1562.23 1735.81L1541.96 1729.05L1528.45 1723.99Z M1528.45 1734.12L1553.78 1745.95L1579.12 1744.26L1597.7 1752.7L1611.22 1766.22L1621.35 1783.11L1629.8 1794.93L1628.11 1813.51L1528.45 1813.51Z M1546.01 1558.78L1565.95 1565.2L1570.34 1585.14L1563.58 1598.31L1552.77 1593.92L1546.01 1576.35Z M1780.14 1695.27L1793.65 1683.45L1817.3 1676.69L1840.95 1681.76L1844.32 1693.58L1832.5 1702.03L1820.68 1710.47L1798.72 1712.16L1783.51 1707.09Z M1837.57 1696.62L1868.31 1692.23L1868.31 1722.97L1848.55 1731.76L1837.57 1720.78Z M1800.41 1766.22L1817.3 1752.7L1837.57 1739.19L1864.59 1732.43L1864.59 1813.51L1807.16 1813.51L1798.72 1786.49Z M1638.07 1702.2L1653.45 1710.98L1657.84 1724.16L1644.66 1726.35L1638.07 1715.37Z M1680.47 1709.8L1700.41 1705.41L1711.22 1716.39L1706.82 1731.76L1689.26 1733.95L1680.47 1722.97Z M1643.14 1732.26L1656.32 1730.07L1662.91 1745.44L1651.93 1752.03L1643.14 1743.24Z M1670.51 1730.57L1683.68 1737.16L1688.07 1756.93L1685.88 1774.49L1674.9 1776.69L1668.31 1756.93L1666.11 1741.55Z M1683.68 1733.28L1696.86 1739.86L1699.05 1753.04L1688.07 1750.84Z M1709.53 1725.51L1722.7 1723.31L1724.9 1736.49L1713.92 1745.27L1707.33 1736.49Z M1618.65 1757.26L1640.61 1752.87L1658.18 1763.85L1669.16 1783.61L1662.57 1792.4L1640.61 1790.2L1623.04 1777.03Z M1637.57 1792.23L1659.53 1790.03L1677.09 1803.21L1677.09 1816.39L1624.39 1816.39Z M1787.74 1738.01L1805.3 1733.61L1809.7 1748.99L1792.13 1751.18Z M1770.17 1784.46L1781.15 1788.85L1783.34 1799.83L1772.36 1799.83Z M1777.6 1774.66L1795.17 1772.47L1799.56 1787.84L1781.99 1792.23Z M1633.85 1681.25L1649.22 1683.45L1658.01 1694.43L1649.22 1701.01L1636.05 1694.43Z M1602.94 1603.89L1611.72 1606.08L1616.11 1619.26L1607.33 1619.26Z M1602.94 1624.16L1611.72 1628.55L1616.11 1639.53L1607.33 1637.33Z M1615.95 1620.95L1629.12 1622.97L1633.51 1636.15L1620.34 1634.12Z M1605.3 1642.4L1618.48 1646.79L1627.26 1659.97L1614.09 1657.77Z M1652.94 1746.45L1666.11 1750.84L1670.51 1770.61L1659.53 1768.41Z" fill="#000" filter="url(#ftumor)"/>
<path d="M1653.45 1568.58L1672.03 1566.89L1675.41 1582.09L1660.2 1585.47Z M1727.77 1637.84L1744.66 1631.08L1748.04 1641.22L1736.22 1646.28Z" fill="#8f95c4" opacity="0.85" filter="url(#frough)"/>
</g>
<rect x="1801.25" y="1792.3" width="55.75" height="7.8" fill="#fff" />
<text x="1775.8" y="1599.5" font-size="25.4" fill="#fff" font-weight="bold">Tumor</text>
<text x="1668.3" y="1636.25" font-size="25.4" fill="#fff" font-weight="bold">Tumor</text>
<text x="1541" y="1716.8" font-size="25.4" fill="#fff" font-weight="bold">Tumor</text>
</svg>
</body></html>
